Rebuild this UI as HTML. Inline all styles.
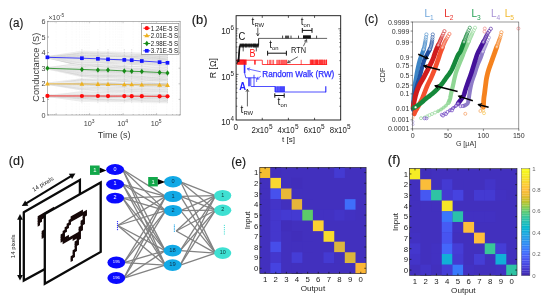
<!DOCTYPE html>
<html><head><meta charset="utf-8"><title>figure</title>
<style>
html,body{margin:0;padding:0;background:#fff;}
svg{display:block;font-family:'Liberation Sans', sans-serif;filter:blur(0.35px);}
</style></head><body>
<svg width="550" height="299" viewBox="0 0 550 299">
<rect width="550" height="299" fill="#fff"/>
<g id="pa">
<polygon points="47.4,56.1 81.9,50.82 97.9,51.26 108,51.6 124.3,52.04 131.7,52.18 141.8,52.82 159.6,53.86 167.5,54.3 167.5,72.3 159.6,71.52 141.8,70.14 131.7,69.17 124.3,68.69 108,67.91 97.9,67.23 81.9,66.45 47.4,58.5" fill="#e6e6e6" opacity="0.85"/>
<polygon points="47.4,67.1 81.9,62.45 97.9,62.9 108,62.85 124.3,63.5 131.7,63.75 141.8,63.9 159.6,64.65 167.5,65.1 167.5,82.1 159.6,81.33 141.8,80.26 131.7,79.79 124.3,79.23 108,78.26 97.9,77.99 81.9,77.22 47.4,69.5" fill="#e6e6e6" opacity="0.85"/>
<polygon points="47.4,82.6 81.9,78.35 97.9,78.43 108,78.41 124.3,78.49 131.7,78.47 141.8,78.54 159.6,78.62 167.5,78.7 167.5,92.7 159.6,92.36 141.8,92.02 131.7,91.68 124.3,91.44 108,91.1 97.9,90.86 81.9,90.52 47.4,85" fill="#e6e6e6" opacity="0.85"/>
<polygon points="47.4,94.7 81.9,91.66 97.9,91.56 108,91.57 124.3,91.47 131.7,91.48 141.8,91.39 159.6,91.39 167.5,91.3 167.5,102.8 159.6,102.68 141.8,102.46 131.7,102.33 124.3,102.11 108,101.99 97.9,101.77 81.9,101.65 47.4,97.1" fill="#e6e6e6" opacity="0.85"/>
<polyline points="47.4,56.6 81.9,56.36 97.9,55.5 108,57.05 124.3,57.17 131.7,56.67 141.8,58.48 159.6,58.49 167.5,59.97" fill="none" stroke="#cfcfcf" stroke-width="0.5" opacity="0.8"/>
<polyline points="47.4,57.4 81.9,53.7 97.9,55.41 108,56.73 124.3,56.46 131.7,56.54 141.8,55.99 159.6,58.34 167.5,57.55" fill="none" stroke="#d6d6d6" stroke-width="0.5" opacity="0.8"/>
<polyline points="47.4,58.02 81.9,51.37 97.9,51.43 108,51.68 124.3,52.54 131.7,53.87 141.8,52.96 159.6,54.93 167.5,55.47" fill="none" stroke="#f4f4f4" stroke-width="0.5" opacity="0.8"/>
<polyline points="47.4,57.72 81.9,52.79 97.9,53.35 108,53.39 124.3,53.9 131.7,54.63 141.8,54.51 159.6,56.64 167.5,55.72" fill="none" stroke="#d6d6d6" stroke-width="0.5" opacity="0.8"/>
<polyline points="47.4,57.7 81.9,62.37 97.9,63.91 108,64.43 124.3,66.02 131.7,66.11 141.8,66 159.6,69.01 167.5,67.68" fill="none" stroke="#c6c6c6" stroke-width="0.5" opacity="0.8"/>
<polyline points="47.4,56.98 81.9,54.68 97.9,53.91 108,55.57 124.3,53.91 131.7,55.22 141.8,56.44 159.6,57.57 167.5,56.89" fill="none" stroke="#f4f4f4" stroke-width="0.5" opacity="0.8"/>
<polyline points="47.4,57.46 81.9,59.91 97.9,61.48 108,62.29 124.3,61.82 131.7,62.63 141.8,62.03 159.6,64.83 167.5,65.35" fill="none" stroke="#dedede" stroke-width="0.5" opacity="0.8"/>
<polyline points="47.4,56.87 81.9,63.12 97.9,64.56 108,63.66 124.3,65.47 131.7,65.23 141.8,66.06 159.6,67.28 167.5,69.74" fill="none" stroke="#d6d6d6" stroke-width="0.5" opacity="0.8"/>
<polyline points="47.4,57.1 81.9,63.15 97.9,62.86 108,62.69 124.3,63.98 131.7,64.1 141.8,64.68 159.6,66.7 167.5,67.71" fill="none" stroke="#dedede" stroke-width="0.5" opacity="0.8"/>
<polyline points="47.4,57.02 81.9,58.28 97.9,59.03 108,57.57 124.3,58.2 131.7,58.61 141.8,59.39 159.6,61.16 167.5,61.99" fill="none" stroke="#f4f4f4" stroke-width="0.5" opacity="0.8"/>
<polyline points="47.4,56.59 81.9,55.46 97.9,56.15 108,55.87 124.3,55.92 131.7,57.89 141.8,58.83 159.6,59.23 167.5,59.95" fill="none" stroke="#c6c6c6" stroke-width="0.5" opacity="0.8"/>
<polyline points="47.4,57.86 81.9,65.44 97.9,66.05 108,65.77 124.3,66.58 131.7,66.36 141.8,68.63 159.6,68.65 167.5,69.45" fill="none" stroke="#d6d6d6" stroke-width="0.5" opacity="0.8"/>
<polyline points="47.4,56.52 81.9,57.97 97.9,57.36 108,58.96 124.3,59.48 131.7,60.75 141.8,60.73 159.6,60.61 167.5,61.53" fill="none" stroke="#c6c6c6" stroke-width="0.5" opacity="0.8"/>
<polyline points="47.4,56.8 81.9,53.03 97.9,53.52 108,53.3 124.3,55.49 131.7,55.99 141.8,55.38 159.6,56.48 167.5,55.98" fill="none" stroke="#cfcfcf" stroke-width="0.5" opacity="0.8"/>
<polyline points="47.4,57.78 81.9,62.27 97.9,63.51 108,63.71 124.3,63.69 131.7,65.9 141.8,65.41 159.6,67.53 167.5,68.79" fill="none" stroke="#ffffff" stroke-width="0.5" opacity="0.8"/>
<polyline points="47.4,57.59 81.9,54.63 97.9,56.96 108,56.6 124.3,58.06 131.7,56.95 141.8,57.36 159.6,59.24 167.5,59.67" fill="none" stroke="#dedede" stroke-width="0.5" opacity="0.8"/>
<polyline points="47.4,57.92 81.9,55.66 97.9,55.83 108,56.11 124.3,56.63 131.7,56.63 141.8,56.08 159.6,57.87 167.5,57.97" fill="none" stroke="#cfcfcf" stroke-width="0.5" opacity="0.8"/>
<polyline points="47.4,57.88 81.9,65.82 97.9,65.98 108,67.7 124.3,67.91 131.7,69.55 141.8,70.38 159.6,70.92 167.5,73.25" fill="none" stroke="#cfcfcf" stroke-width="0.5" opacity="0.8"/>
<polyline points="47.4,56.75 81.9,53.73 97.9,54.24 108,55.63 124.3,56.78 131.7,56.83 141.8,56.65 159.6,58.15 167.5,58.99" fill="none" stroke="#cfcfcf" stroke-width="0.5" opacity="0.8"/>
<polyline points="47.4,56.54 81.9,63.31 97.9,64.85 108,64.29 124.3,66.7 131.7,66.08 141.8,67.52 159.6,67.57 167.5,70.39" fill="none" stroke="#dedede" stroke-width="0.5" opacity="0.8"/>
<polyline points="47.4,57.1 81.9,58.14 97.9,58.17 108,57.3 124.3,57.77 131.7,58.09 141.8,60.67 159.6,61.6 167.5,60.58" fill="none" stroke="#ffffff" stroke-width="0.5" opacity="0.8"/>
<polyline points="47.4,57.61 81.9,65.39 97.9,66.69 108,66.42 124.3,66.97 131.7,69.79 141.8,70.05 159.6,71.18 167.5,72.99" fill="none" stroke="#c6c6c6" stroke-width="0.5" opacity="0.8"/>
<polyline points="47.4,56.69 81.9,66.74 97.9,65.54 108,66.71 124.3,68.23 131.7,69.4 141.8,69.38 159.6,71.33 167.5,72.86" fill="none" stroke="#cfcfcf" stroke-width="0.5" opacity="0.8"/>
<polyline points="47.4,57.01 81.9,64.6 97.9,65.7 108,67.17 124.3,66.8 131.7,68.49 141.8,68.49 159.6,69.96 167.5,70.74" fill="none" stroke="#cfcfcf" stroke-width="0.5" opacity="0.8"/>
<polyline points="47.4,57.85 81.9,64.41 97.9,65.59 108,64.77 124.3,65.53 131.7,67.16 141.8,66.94 159.6,68.18 167.5,70.45" fill="none" stroke="#ffffff" stroke-width="0.5" opacity="0.8"/>
<polyline points="47.4,57.87 81.9,58.49 97.9,60.22 108,60.01 124.3,60.71 131.7,62.24 141.8,62.44 159.6,63.81 167.5,64.92" fill="none" stroke="#cfcfcf" stroke-width="0.5" opacity="0.8"/>
<polyline points="47.4,68.53 81.9,69.03 97.9,69.63 108,70.16 124.3,70.37 131.7,70.95 141.8,71.11 159.6,73.11 167.5,73.11" fill="none" stroke="#f4f4f4" stroke-width="0.5" opacity="0.8"/>
<polyline points="47.4,69.09 81.9,75.03 97.9,76.41 108,76.63 124.3,77.56 131.7,77.97 141.8,79.31 159.6,79.82 167.5,80.1" fill="none" stroke="#f4f4f4" stroke-width="0.5" opacity="0.8"/>
<polyline points="47.4,69.09 81.9,72.97 97.9,75.05 108,75.15 124.3,74.84 131.7,77.15 141.8,77.78 159.6,77.02 167.5,79.51" fill="none" stroke="#c6c6c6" stroke-width="0.5" opacity="0.8"/>
<polyline points="47.4,67.63 81.9,75.61 97.9,75.32 108,76.76 124.3,78.43 131.7,77.58 141.8,78.1 159.6,79.02 167.5,79.17" fill="none" stroke="#f4f4f4" stroke-width="0.5" opacity="0.8"/>
<polyline points="47.4,68.41 81.9,62.93 97.9,62.32 108,62.99 124.3,64.3 131.7,64.24 141.8,63.27 159.6,66.19 167.5,66.12" fill="none" stroke="#cfcfcf" stroke-width="0.5" opacity="0.8"/>
<polyline points="47.4,67.84 81.9,64.95 97.9,63.65 108,64.96 124.3,65.75 131.7,66.06 141.8,65.78 159.6,67.16 167.5,66.3" fill="none" stroke="#ffffff" stroke-width="0.5" opacity="0.8"/>
<polyline points="47.4,68.44 81.9,76.17 97.9,75.5 108,75.71 124.3,78.22 131.7,78.17 141.8,77.82 159.6,80.99 167.5,81.05" fill="none" stroke="#f4f4f4" stroke-width="0.5" opacity="0.8"/>
<polyline points="47.4,69.01 81.9,62.93 97.9,65.28 108,64.23 124.3,64.6 131.7,65.34 141.8,66.38 159.6,65.53 167.5,65.63" fill="none" stroke="#ffffff" stroke-width="0.5" opacity="0.8"/>
<polyline points="47.4,69.18 81.9,73.88 97.9,72.88 108,72.89 124.3,75.59 131.7,75.37 141.8,75.53 159.6,75.75 167.5,77.03" fill="none" stroke="#dedede" stroke-width="0.5" opacity="0.8"/>
<polyline points="47.4,67.99 81.9,64.14 97.9,65.17 108,64.58 124.3,66.98 131.7,66.82 141.8,66.13 159.6,67.59 167.5,69.17" fill="none" stroke="#cfcfcf" stroke-width="0.5" opacity="0.8"/>
<polyline points="47.4,68.6 81.9,72.41 97.9,72.82 108,73.83 124.3,74.9 131.7,73.79 141.8,73.95 159.6,74.96 167.5,75.57" fill="none" stroke="#dedede" stroke-width="0.5" opacity="0.8"/>
<polyline points="47.4,67.58 81.9,74.2 97.9,74.89 108,74.75 124.3,73.69 131.7,75.66 141.8,76.68 159.6,76.61 167.5,76.42" fill="none" stroke="#dedede" stroke-width="0.5" opacity="0.8"/>
<polyline points="47.4,69.04 81.9,75.01 97.9,74.83 108,75 124.3,76.07 131.7,77.03 141.8,76.76 159.6,78.51 167.5,78.83" fill="none" stroke="#f4f4f4" stroke-width="0.5" opacity="0.8"/>
<polyline points="47.4,68.39 81.9,75.83 97.9,78.37 108,77.11 124.3,78.24 131.7,78 141.8,79.42 159.6,80.76 167.5,81.64" fill="none" stroke="#d6d6d6" stroke-width="0.5" opacity="0.8"/>
<polyline points="47.4,68.85 81.9,65.3 97.9,67.55 108,65.94 124.3,67.71 131.7,67.55 141.8,67.53 159.6,69.12 167.5,68.32" fill="none" stroke="#ffffff" stroke-width="0.5" opacity="0.8"/>
<polyline points="47.4,67.61 81.9,75.71 97.9,76.21 108,76.02 124.3,77.39 131.7,77.85 141.8,77.77 159.6,78.32 167.5,79.89" fill="none" stroke="#d6d6d6" stroke-width="0.5" opacity="0.8"/>
<polyline points="47.4,68.97 81.9,64.35 97.9,64.14 108,64.31 124.3,65.12 131.7,63.72 141.8,64.76 159.6,65.44 167.5,66.65" fill="none" stroke="#cfcfcf" stroke-width="0.5" opacity="0.8"/>
<polyline points="47.4,68.47 81.9,75.33 97.9,75.58 108,75.86 124.3,75.7 131.7,75.77 141.8,76.47 159.6,78.06 167.5,78.2" fill="none" stroke="#c6c6c6" stroke-width="0.5" opacity="0.8"/>
<polyline points="47.4,68.56 81.9,70.94 97.9,71.7 108,71.38 124.3,71.05 131.7,73.4 141.8,73.62 159.6,73.96 167.5,74.68" fill="none" stroke="#dedede" stroke-width="0.5" opacity="0.8"/>
<polyline points="47.4,68.79 81.9,70.11 97.9,71.54 108,71.75 124.3,71.11 131.7,72.79 141.8,71.85 159.6,73.78 167.5,73.95" fill="none" stroke="#c6c6c6" stroke-width="0.5" opacity="0.8"/>
<polyline points="47.4,69.12 81.9,63.37 97.9,63.22 108,64.56 124.3,64.15 131.7,65.35 141.8,64.84 159.6,66.34 167.5,66.87" fill="none" stroke="#ffffff" stroke-width="0.5" opacity="0.8"/>
<polyline points="47.4,67.32 81.9,69.71 97.9,70.85 108,71.96 124.3,72.85 131.7,73.25 141.8,72.67 159.6,74.15 167.5,74.67" fill="none" stroke="#c6c6c6" stroke-width="0.5" opacity="0.8"/>
<polyline points="47.4,69.29 81.9,73.68 97.9,73.83 108,73.52 124.3,75.37 131.7,75.46 141.8,75.37 159.6,77.43 167.5,79.33" fill="none" stroke="#f4f4f4" stroke-width="0.5" opacity="0.8"/>
<polyline points="47.4,69.13 81.9,69.26 97.9,67.77 108,67.87 124.3,70.21 131.7,69.41 141.8,69.91 159.6,71.36 167.5,71.99" fill="none" stroke="#f4f4f4" stroke-width="0.5" opacity="0.8"/>
<polyline points="47.4,68.71 81.9,74.59 97.9,76.97 108,76.26 124.3,76.13 131.7,76.65 141.8,78.3 159.6,79.28 167.5,79.7" fill="none" stroke="#d6d6d6" stroke-width="0.5" opacity="0.8"/>
<polyline points="47.4,68.05 81.9,67.73 97.9,68.81 108,68.87 124.3,69.68 131.7,70.2 141.8,71.78 159.6,70.87 167.5,71" fill="none" stroke="#dedede" stroke-width="0.5" opacity="0.8"/>
<polyline points="47.4,83.54 81.9,81.73 97.9,83.32 108,82.38 124.3,81.97 131.7,82.17 141.8,81.94 159.6,81.53 167.5,81.8" fill="none" stroke="#dedede" stroke-width="0.5" opacity="0.8"/>
<polyline points="47.4,84.67 81.9,81.33 97.9,81.51 108,82.14 124.3,81.5 131.7,81.98 141.8,83.52 159.6,83.48 167.5,83.45" fill="none" stroke="#dedede" stroke-width="0.5" opacity="0.8"/>
<polyline points="47.4,84.55 81.9,83.39 97.9,82.72 108,82.51 124.3,84.73 131.7,83.55 141.8,84.22 159.6,83.26 167.5,85.19" fill="none" stroke="#c6c6c6" stroke-width="0.5" opacity="0.8"/>
<polyline points="47.4,84.65 81.9,78.31 97.9,79.19 108,78.84 124.3,78.78 131.7,79.8 141.8,80.42 159.6,78.76 167.5,79.76" fill="none" stroke="#f4f4f4" stroke-width="0.5" opacity="0.8"/>
<polyline points="47.4,84.14 81.9,83.31 97.9,84.77 108,83.51 124.3,84.74 131.7,85.59 141.8,85.17 159.6,85.15 167.5,85.06" fill="none" stroke="#c6c6c6" stroke-width="0.5" opacity="0.8"/>
<polyline points="47.4,83.9 81.9,82.96 97.9,82.98 108,83.98 124.3,83.6 131.7,83.81 141.8,85.05 159.6,83.78 167.5,83.53" fill="none" stroke="#c6c6c6" stroke-width="0.5" opacity="0.8"/>
<polyline points="47.4,84.29 81.9,82.36 97.9,82.68 108,83.91 124.3,83.47 131.7,83.72 141.8,83.38 159.6,84.34 167.5,84.13" fill="none" stroke="#d6d6d6" stroke-width="0.5" opacity="0.8"/>
<polyline points="47.4,84.59 81.9,79.43 97.9,80.13 108,79.58 124.3,79.37 131.7,80.54 141.8,80.98 159.6,79.03 167.5,79.82" fill="none" stroke="#c6c6c6" stroke-width="0.5" opacity="0.8"/>
<polyline points="47.4,83.78 81.9,88.8 97.9,91.23 108,91.5 124.3,90.92 131.7,91.05 141.8,91.38 159.6,92.56 167.5,91.59" fill="none" stroke="#d6d6d6" stroke-width="0.5" opacity="0.8"/>
<polyline points="47.4,84.16 81.9,85.73 97.9,85.42 108,85.37 124.3,85.87 131.7,85.25 141.8,85.7 159.6,84.69 167.5,86.69" fill="none" stroke="#d6d6d6" stroke-width="0.5" opacity="0.8"/>
<polyline points="47.4,82.88 81.9,85.73 97.9,86.56 108,85.89 124.3,85.89 131.7,85.81 141.8,86.83 159.6,85.47 167.5,86.19" fill="none" stroke="#ffffff" stroke-width="0.5" opacity="0.8"/>
<polyline points="47.4,83.32 81.9,81.55 97.9,79.76 108,81.05 124.3,82.26 131.7,80.54 141.8,80.73 159.6,82.09 167.5,80.77" fill="none" stroke="#ffffff" stroke-width="0.5" opacity="0.8"/>
<polyline points="47.4,83.29 81.9,82.45 97.9,81.96 108,81.03 124.3,80.46 131.7,81.62 141.8,82.17 159.6,81.68 167.5,81.4" fill="none" stroke="#dedede" stroke-width="0.5" opacity="0.8"/>
<polyline points="47.4,83.54 81.9,83.52 97.9,84.19 108,84.33 124.3,83.67 131.7,83.83 141.8,83.08 159.6,83.96 167.5,85.47" fill="none" stroke="#cfcfcf" stroke-width="0.5" opacity="0.8"/>
<polyline points="47.4,84.74 81.9,80.56 97.9,81.89 108,80.48 124.3,80.57 131.7,81.87 141.8,80.86 159.6,82.55 167.5,81.56" fill="none" stroke="#d6d6d6" stroke-width="0.5" opacity="0.8"/>
<polyline points="47.4,83.77 81.9,89.98 97.9,88.28 108,89.82 124.3,90.96 131.7,89.13 141.8,89.4 159.6,91.13 167.5,91.05" fill="none" stroke="#dedede" stroke-width="0.5" opacity="0.8"/>
<polyline points="47.4,83.59 81.9,80.29 97.9,80.31 108,79.91 124.3,80.6 131.7,80.4 141.8,79.01 159.6,78.73 167.5,80.59" fill="none" stroke="#dedede" stroke-width="0.5" opacity="0.8"/>
<polyline points="47.4,83.42 81.9,84.58 97.9,85.05 108,85.5 124.3,84.4 131.7,83.7 141.8,83.83 159.6,84.04 167.5,85.06" fill="none" stroke="#cfcfcf" stroke-width="0.5" opacity="0.8"/>
<polyline points="47.4,84.32 81.9,84.83 97.9,86 108,85.03 124.3,86.45 131.7,84.86 141.8,86.58 159.6,85.59 167.5,86.66" fill="none" stroke="#c6c6c6" stroke-width="0.5" opacity="0.8"/>
<polyline points="47.4,83.53 81.9,81.82 97.9,79.84 108,80.76 124.3,81.83 131.7,81.73 141.8,80.09 159.6,80.18 167.5,80.35" fill="none" stroke="#cfcfcf" stroke-width="0.5" opacity="0.8"/>
<polyline points="47.4,84.29 81.9,82.56 97.9,81.35 108,81.21 124.3,82.99 131.7,82.2 141.8,81.47 159.6,82.69 167.5,81.86" fill="none" stroke="#f4f4f4" stroke-width="0.5" opacity="0.8"/>
<polyline points="47.4,84.24 81.9,82.3 97.9,82.95 108,83.33 124.3,81.35 131.7,83.22 141.8,81.64 159.6,83.24 167.5,82.78" fill="none" stroke="#c6c6c6" stroke-width="0.5" opacity="0.8"/>
<polyline points="47.4,84.63 81.9,88.52 97.9,87.19 108,88.28 124.3,87.42 131.7,89.85 141.8,88.66 159.6,89.9 167.5,88.92" fill="none" stroke="#d6d6d6" stroke-width="0.5" opacity="0.8"/>
<polyline points="47.4,83.44 81.9,82.09 97.9,83.25 108,81.62 124.3,82.05 131.7,83.44 141.8,82.38 159.6,82.09 167.5,82.17" fill="none" stroke="#ffffff" stroke-width="0.5" opacity="0.8"/>
<polyline points="47.4,83.12 81.9,84.75 97.9,84.21 108,84.26 124.3,85.81 131.7,84.94 141.8,85.68 159.6,87.27 167.5,87.46" fill="none" stroke="#d6d6d6" stroke-width="0.5" opacity="0.8"/>
<polyline points="47.4,83.63 81.9,81.63 97.9,81.88 108,82.08 124.3,82.43 131.7,82.01 141.8,80.83 159.6,82.68 167.5,81.48" fill="none" stroke="#ffffff" stroke-width="0.5" opacity="0.8"/>
<polyline points="47.4,95.41 81.9,93.84 97.9,94.22 108,93.66 124.3,93.74 131.7,93.9 141.8,95.35 159.6,93.68 167.5,93.33" fill="none" stroke="#f4f4f4" stroke-width="0.5" opacity="0.8"/>
<polyline points="47.4,95.91 81.9,100.65 97.9,102.19 108,102.08 124.3,103.05 131.7,101.18 141.8,102.23 159.6,103.32 167.5,103.53" fill="none" stroke="#f4f4f4" stroke-width="0.5" opacity="0.8"/>
<polyline points="47.4,95.49 81.9,91.34 97.9,91.4 108,93.27 124.3,92.22 131.7,93.04 141.8,91.58 159.6,92.76 167.5,91.64" fill="none" stroke="#f4f4f4" stroke-width="0.5" opacity="0.8"/>
<polyline points="47.4,96.23 81.9,98.04 97.9,99.66 108,100.03 124.3,99.26 131.7,98.71 141.8,99.53 159.6,99.02 167.5,101.41" fill="none" stroke="#cfcfcf" stroke-width="0.5" opacity="0.8"/>
<polyline points="47.4,96.2 81.9,96.85 97.9,96.44 108,97.34 124.3,98.23 131.7,97.2 141.8,97.55 159.6,97.43 167.5,98.9" fill="none" stroke="#ffffff" stroke-width="0.5" opacity="0.8"/>
<polyline points="47.4,95.72 81.9,97.17 97.9,96.87 108,95.76 124.3,96.69 131.7,97.09 141.8,96.49 159.6,96.3 167.5,98.03" fill="none" stroke="#dedede" stroke-width="0.5" opacity="0.8"/>
<polyline points="47.4,96.81 81.9,94.34 97.9,94.92 108,94.48 124.3,94.58 131.7,95.72 141.8,96 159.6,94.55 167.5,94.11" fill="none" stroke="#dedede" stroke-width="0.5" opacity="0.8"/>
<polyline points="47.4,96.78 81.9,95.56 97.9,94.88 108,94.87 124.3,94.81 131.7,96.07 141.8,95.55 159.6,96.62 167.5,95.07" fill="none" stroke="#cfcfcf" stroke-width="0.5" opacity="0.8"/>
<polyline points="47.4,96.18 81.9,98.09 97.9,96.16 108,97.57 124.3,97 131.7,97.45 141.8,96.63 159.6,97.09 167.5,97.69" fill="none" stroke="#cfcfcf" stroke-width="0.5" opacity="0.8"/>
<polyline points="47.4,95.88 81.9,93.64 97.9,93.93 108,92.09 124.3,91.83 131.7,93.8 141.8,93.78 159.6,92.6 167.5,91.48" fill="none" stroke="#dedede" stroke-width="0.5" opacity="0.8"/>
<polyline points="47.4,96.71 81.9,95.84 97.9,96.32 108,94.81 124.3,96.3 131.7,95.03 141.8,95.46 159.6,96.61 167.5,96.55" fill="none" stroke="#d6d6d6" stroke-width="0.5" opacity="0.8"/>
<polyline points="47.4,94.98 81.9,98.29 97.9,96.45 108,97.08 124.3,96.61 131.7,98.72 141.8,98.38 159.6,97.03 167.5,98.72" fill="none" stroke="#dedede" stroke-width="0.5" opacity="0.8"/>
<polyline points="47.4,96.58 81.9,91.32 97.9,92.36 108,92.23 124.3,92.3 131.7,91.52 141.8,91.67 159.6,92.05 167.5,91.56" fill="none" stroke="#dedede" stroke-width="0.5" opacity="0.8"/>
<polyline points="47.4,95.91 81.9,94.59 97.9,94.15 108,96.59 124.3,95.32 131.7,95.36 141.8,95.75 159.6,96.31 167.5,96.33" fill="none" stroke="#c6c6c6" stroke-width="0.5" opacity="0.8"/>
<polyline points="47.4,95.03 81.9,95.33 97.9,95.34 108,96.48 124.3,95.75 131.7,96.21 141.8,94.72 159.6,95.03 167.5,96.92" fill="none" stroke="#f4f4f4" stroke-width="0.5" opacity="0.8"/>
<polyline points="47.4,95.92 81.9,98.18 97.9,99.36 108,99.26 124.3,100.73 131.7,98.97 141.8,100.8 159.6,101.33 167.5,100.8" fill="none" stroke="#cfcfcf" stroke-width="0.5" opacity="0.8"/>
<polyline points="47.4,96.86 81.9,93.69 97.9,94.74 108,94.67 124.3,92.8 131.7,94.33 141.8,94.6 159.6,92.55 167.5,93.17" fill="none" stroke="#f4f4f4" stroke-width="0.5" opacity="0.8"/>
<polyline points="47.4,96.69 81.9,92.84 97.9,94.06 108,92.47 124.3,93.25 131.7,94.27 141.8,92.48 159.6,92.64 167.5,93.14" fill="none" stroke="#f4f4f4" stroke-width="0.5" opacity="0.8"/>
<polyline points="47.4,95.3 81.9,95.18 97.9,95.72 108,94.94 124.3,95.04 131.7,95.24 141.8,96.22 159.6,95.03 167.5,96.22" fill="none" stroke="#cfcfcf" stroke-width="0.5" opacity="0.8"/>
<polyline points="47.4,95.62 81.9,98.81 97.9,98.1 108,98.32 124.3,99.1 131.7,97.39 141.8,99.58 159.6,98.87 167.5,98.36" fill="none" stroke="#f4f4f4" stroke-width="0.5" opacity="0.8"/>
<polyline points="47.4,96.88 81.9,94.57 97.9,94 108,95.02 124.3,94.2 131.7,93.62 141.8,94.93 159.6,93.31 167.5,95.11" fill="none" stroke="#f4f4f4" stroke-width="0.5" opacity="0.8"/>
<polyline points="47.4,96.83 81.9,95.71 97.9,95.81 108,95.79 124.3,95.37 131.7,95.47 141.8,94.17 159.6,94.4 167.5,95.17" fill="none" stroke="#c6c6c6" stroke-width="0.5" opacity="0.8"/>
<polyline points="47.4,96.69 81.9,95.86 97.9,96.11 108,97.25 124.3,95.76 131.7,95.83 141.8,96.7 159.6,96.23 167.5,96.85" fill="none" stroke="#d6d6d6" stroke-width="0.5" opacity="0.8"/>
<polyline points="47.4,95.5 81.9,94.92 97.9,95.47 108,96.67 124.3,95.06 131.7,94.8 141.8,96.69 159.6,96.56 167.5,95.93" fill="none" stroke="#cfcfcf" stroke-width="0.5" opacity="0.8"/>
<polyline points="47.4,96.64 81.9,98.61 97.9,97.75 108,97.58 124.3,97.03 131.7,98.71 141.8,98.57 159.6,98.22 167.5,98.99" fill="none" stroke="#c6c6c6" stroke-width="0.5" opacity="0.8"/>
<polyline points="47.4,95.94 81.9,97.57 97.9,96.83 108,96.58 124.3,96.78 131.7,96.84 141.8,97.27 159.6,97.36 167.5,99.21" fill="none" stroke="#cfcfcf" stroke-width="0.5" opacity="0.8"/>
<line x1="81.9" y1="49" x2="81.9" y2="103.5" stroke="#b5b5b5" stroke-width="0.5" stroke-dasharray="0.8,0.8"/>
<line x1="97.9" y1="49" x2="97.9" y2="103.5" stroke="#b5b5b5" stroke-width="0.5" stroke-dasharray="0.8,0.8"/>
<line x1="108" y1="49" x2="108" y2="103.5" stroke="#b5b5b5" stroke-width="0.5" stroke-dasharray="0.8,0.8"/>
<line x1="124.3" y1="49" x2="124.3" y2="103.5" stroke="#b5b5b5" stroke-width="0.5" stroke-dasharray="0.8,0.8"/>
<line x1="131.7" y1="49" x2="131.7" y2="103.5" stroke="#b5b5b5" stroke-width="0.5" stroke-dasharray="0.8,0.8"/>
<line x1="141.8" y1="49" x2="141.8" y2="103.5" stroke="#b5b5b5" stroke-width="0.5" stroke-dasharray="0.8,0.8"/>
<line x1="159.6" y1="49" x2="159.6" y2="103.5" stroke="#b5b5b5" stroke-width="0.5" stroke-dasharray="0.8,0.8"/>
<line x1="167.5" y1="49" x2="167.5" y2="103.5" stroke="#b5b5b5" stroke-width="0.5" stroke-dasharray="0.8,0.8"/>
<line x1="56.1" y1="21.4" x2="56.1" y2="115" stroke="#ededed" stroke-width="0.4" stroke-dasharray="0.6,1"/>
<line x1="66.18" y1="21.4" x2="66.18" y2="115" stroke="#ededed" stroke-width="0.4" stroke-dasharray="0.6,1"/>
<line x1="72.08" y1="21.4" x2="72.08" y2="115" stroke="#ededed" stroke-width="0.4" stroke-dasharray="0.6,1"/>
<line x1="76.27" y1="21.4" x2="76.27" y2="115" stroke="#ededed" stroke-width="0.4" stroke-dasharray="0.6,1"/>
<line x1="79.52" y1="21.4" x2="79.52" y2="115" stroke="#ededed" stroke-width="0.4" stroke-dasharray="0.6,1"/>
<line x1="82.17" y1="21.4" x2="82.17" y2="115" stroke="#ededed" stroke-width="0.4" stroke-dasharray="0.6,1"/>
<line x1="84.41" y1="21.4" x2="84.41" y2="115" stroke="#ededed" stroke-width="0.4" stroke-dasharray="0.6,1"/>
<line x1="86.35" y1="21.4" x2="86.35" y2="115" stroke="#ededed" stroke-width="0.4" stroke-dasharray="0.6,1"/>
<line x1="88.07" y1="21.4" x2="88.07" y2="115" stroke="#ededed" stroke-width="0.4" stroke-dasharray="0.6,1"/>
<line x1="89.6" y1="21.4" x2="89.6" y2="115" stroke="#ededed" stroke-width="0.4" stroke-dasharray="0.6,1"/>
<line x1="99.68" y1="21.4" x2="99.68" y2="115" stroke="#ededed" stroke-width="0.4" stroke-dasharray="0.6,1"/>
<line x1="105.58" y1="21.4" x2="105.58" y2="115" stroke="#ededed" stroke-width="0.4" stroke-dasharray="0.6,1"/>
<line x1="109.77" y1="21.4" x2="109.77" y2="115" stroke="#ededed" stroke-width="0.4" stroke-dasharray="0.6,1"/>
<line x1="113.02" y1="21.4" x2="113.02" y2="115" stroke="#ededed" stroke-width="0.4" stroke-dasharray="0.6,1"/>
<line x1="115.67" y1="21.4" x2="115.67" y2="115" stroke="#ededed" stroke-width="0.4" stroke-dasharray="0.6,1"/>
<line x1="117.91" y1="21.4" x2="117.91" y2="115" stroke="#ededed" stroke-width="0.4" stroke-dasharray="0.6,1"/>
<line x1="119.85" y1="21.4" x2="119.85" y2="115" stroke="#ededed" stroke-width="0.4" stroke-dasharray="0.6,1"/>
<line x1="121.57" y1="21.4" x2="121.57" y2="115" stroke="#ededed" stroke-width="0.4" stroke-dasharray="0.6,1"/>
<line x1="123.1" y1="21.4" x2="123.1" y2="115" stroke="#ededed" stroke-width="0.4" stroke-dasharray="0.6,1"/>
<line x1="133.18" y1="21.4" x2="133.18" y2="115" stroke="#ededed" stroke-width="0.4" stroke-dasharray="0.6,1"/>
<line x1="139.08" y1="21.4" x2="139.08" y2="115" stroke="#ededed" stroke-width="0.4" stroke-dasharray="0.6,1"/>
<line x1="143.27" y1="21.4" x2="143.27" y2="115" stroke="#ededed" stroke-width="0.4" stroke-dasharray="0.6,1"/>
<line x1="146.52" y1="21.4" x2="146.52" y2="115" stroke="#ededed" stroke-width="0.4" stroke-dasharray="0.6,1"/>
<line x1="149.17" y1="21.4" x2="149.17" y2="115" stroke="#ededed" stroke-width="0.4" stroke-dasharray="0.6,1"/>
<line x1="151.41" y1="21.4" x2="151.41" y2="115" stroke="#ededed" stroke-width="0.4" stroke-dasharray="0.6,1"/>
<line x1="153.35" y1="21.4" x2="153.35" y2="115" stroke="#ededed" stroke-width="0.4" stroke-dasharray="0.6,1"/>
<line x1="155.07" y1="21.4" x2="155.07" y2="115" stroke="#ededed" stroke-width="0.4" stroke-dasharray="0.6,1"/>
<line x1="156.6" y1="21.4" x2="156.6" y2="115" stroke="#ededed" stroke-width="0.4" stroke-dasharray="0.6,1"/>
<line x1="166.68" y1="21.4" x2="166.68" y2="115" stroke="#ededed" stroke-width="0.4" stroke-dasharray="0.6,1"/>
<line x1="172.58" y1="21.4" x2="172.58" y2="115" stroke="#ededed" stroke-width="0.4" stroke-dasharray="0.6,1"/>
<line x1="176.77" y1="21.4" x2="176.77" y2="115" stroke="#ededed" stroke-width="0.4" stroke-dasharray="0.6,1"/>
<line x1="180.02" y1="21.4" x2="180.02" y2="115" stroke="#ededed" stroke-width="0.4" stroke-dasharray="0.6,1"/>
<rect x="47.4" y="21.4" width="132.8" height="93.6" fill="none" stroke="#9a9a9a" stroke-width="0.7"/>
<line x1="47.4" y1="115" x2="49" y2="115" stroke="#777" stroke-width="0.6"/>
<line x1="180.2" y1="115" x2="178.6" y2="115" stroke="#999" stroke-width="0.6"/>
<text x="45.4" y="117.6" font-size="7.2" fill="#444" text-anchor="end">0</text>
<line x1="47.4" y1="99.4" x2="49" y2="99.4" stroke="#777" stroke-width="0.6"/>
<line x1="180.2" y1="99.4" x2="178.6" y2="99.4" stroke="#999" stroke-width="0.6"/>
<text x="45.4" y="102" font-size="7.2" fill="#444" text-anchor="end">1</text>
<line x1="47.4" y1="83.8" x2="49" y2="83.8" stroke="#777" stroke-width="0.6"/>
<line x1="180.2" y1="83.8" x2="178.6" y2="83.8" stroke="#999" stroke-width="0.6"/>
<text x="45.4" y="86.4" font-size="7.2" fill="#444" text-anchor="end">2</text>
<line x1="47.4" y1="68.2" x2="49" y2="68.2" stroke="#777" stroke-width="0.6"/>
<line x1="180.2" y1="68.2" x2="178.6" y2="68.2" stroke="#999" stroke-width="0.6"/>
<text x="45.4" y="70.8" font-size="7.2" fill="#444" text-anchor="end">3</text>
<line x1="47.4" y1="52.6" x2="49" y2="52.6" stroke="#777" stroke-width="0.6"/>
<line x1="180.2" y1="52.6" x2="178.6" y2="52.6" stroke="#999" stroke-width="0.6"/>
<text x="45.4" y="55.2" font-size="7.2" fill="#444" text-anchor="end">4</text>
<line x1="47.4" y1="37" x2="49" y2="37" stroke="#777" stroke-width="0.6"/>
<line x1="180.2" y1="37" x2="178.6" y2="37" stroke="#999" stroke-width="0.6"/>
<text x="45.4" y="39.6" font-size="7.2" fill="#444" text-anchor="end">5</text>
<line x1="47.4" y1="21.4" x2="49" y2="21.4" stroke="#777" stroke-width="0.6"/>
<line x1="180.2" y1="21.4" x2="178.6" y2="21.4" stroke="#999" stroke-width="0.6"/>
<text x="45.4" y="24" font-size="7.2" fill="#444" text-anchor="end">6</text>
<line x1="48.67" y1="115" x2="48.67" y2="114.1" stroke="#888" stroke-width="0.5"/>
<line x1="48.67" y1="21.4" x2="48.67" y2="22.3" stroke="#aaa" stroke-width="0.5"/>
<line x1="50.91" y1="115" x2="50.91" y2="114.1" stroke="#888" stroke-width="0.5"/>
<line x1="50.91" y1="21.4" x2="50.91" y2="22.3" stroke="#aaa" stroke-width="0.5"/>
<line x1="52.85" y1="115" x2="52.85" y2="114.1" stroke="#888" stroke-width="0.5"/>
<line x1="52.85" y1="21.4" x2="52.85" y2="22.3" stroke="#aaa" stroke-width="0.5"/>
<line x1="54.57" y1="115" x2="54.57" y2="114.1" stroke="#888" stroke-width="0.5"/>
<line x1="54.57" y1="21.4" x2="54.57" y2="22.3" stroke="#aaa" stroke-width="0.5"/>
<line x1="56.1" y1="115" x2="56.1" y2="113.2" stroke="#888" stroke-width="0.5"/>
<line x1="56.1" y1="21.4" x2="56.1" y2="23.2" stroke="#aaa" stroke-width="0.5"/>
<line x1="66.18" y1="115" x2="66.18" y2="114.1" stroke="#888" stroke-width="0.5"/>
<line x1="66.18" y1="21.4" x2="66.18" y2="22.3" stroke="#aaa" stroke-width="0.5"/>
<line x1="72.08" y1="115" x2="72.08" y2="114.1" stroke="#888" stroke-width="0.5"/>
<line x1="72.08" y1="21.4" x2="72.08" y2="22.3" stroke="#aaa" stroke-width="0.5"/>
<line x1="76.27" y1="115" x2="76.27" y2="114.1" stroke="#888" stroke-width="0.5"/>
<line x1="76.27" y1="21.4" x2="76.27" y2="22.3" stroke="#aaa" stroke-width="0.5"/>
<line x1="79.52" y1="115" x2="79.52" y2="114.1" stroke="#888" stroke-width="0.5"/>
<line x1="79.52" y1="21.4" x2="79.52" y2="22.3" stroke="#aaa" stroke-width="0.5"/>
<line x1="82.17" y1="115" x2="82.17" y2="114.1" stroke="#888" stroke-width="0.5"/>
<line x1="82.17" y1="21.4" x2="82.17" y2="22.3" stroke="#aaa" stroke-width="0.5"/>
<line x1="84.41" y1="115" x2="84.41" y2="114.1" stroke="#888" stroke-width="0.5"/>
<line x1="84.41" y1="21.4" x2="84.41" y2="22.3" stroke="#aaa" stroke-width="0.5"/>
<line x1="86.35" y1="115" x2="86.35" y2="114.1" stroke="#888" stroke-width="0.5"/>
<line x1="86.35" y1="21.4" x2="86.35" y2="22.3" stroke="#aaa" stroke-width="0.5"/>
<line x1="88.07" y1="115" x2="88.07" y2="114.1" stroke="#888" stroke-width="0.5"/>
<line x1="88.07" y1="21.4" x2="88.07" y2="22.3" stroke="#aaa" stroke-width="0.5"/>
<line x1="89.6" y1="115" x2="89.6" y2="113.2" stroke="#888" stroke-width="0.5"/>
<line x1="89.6" y1="21.4" x2="89.6" y2="23.2" stroke="#aaa" stroke-width="0.5"/>
<line x1="99.68" y1="115" x2="99.68" y2="114.1" stroke="#888" stroke-width="0.5"/>
<line x1="99.68" y1="21.4" x2="99.68" y2="22.3" stroke="#aaa" stroke-width="0.5"/>
<line x1="105.58" y1="115" x2="105.58" y2="114.1" stroke="#888" stroke-width="0.5"/>
<line x1="105.58" y1="21.4" x2="105.58" y2="22.3" stroke="#aaa" stroke-width="0.5"/>
<line x1="109.77" y1="115" x2="109.77" y2="114.1" stroke="#888" stroke-width="0.5"/>
<line x1="109.77" y1="21.4" x2="109.77" y2="22.3" stroke="#aaa" stroke-width="0.5"/>
<line x1="113.02" y1="115" x2="113.02" y2="114.1" stroke="#888" stroke-width="0.5"/>
<line x1="113.02" y1="21.4" x2="113.02" y2="22.3" stroke="#aaa" stroke-width="0.5"/>
<line x1="115.67" y1="115" x2="115.67" y2="114.1" stroke="#888" stroke-width="0.5"/>
<line x1="115.67" y1="21.4" x2="115.67" y2="22.3" stroke="#aaa" stroke-width="0.5"/>
<line x1="117.91" y1="115" x2="117.91" y2="114.1" stroke="#888" stroke-width="0.5"/>
<line x1="117.91" y1="21.4" x2="117.91" y2="22.3" stroke="#aaa" stroke-width="0.5"/>
<line x1="119.85" y1="115" x2="119.85" y2="114.1" stroke="#888" stroke-width="0.5"/>
<line x1="119.85" y1="21.4" x2="119.85" y2="22.3" stroke="#aaa" stroke-width="0.5"/>
<line x1="121.57" y1="115" x2="121.57" y2="114.1" stroke="#888" stroke-width="0.5"/>
<line x1="121.57" y1="21.4" x2="121.57" y2="22.3" stroke="#aaa" stroke-width="0.5"/>
<line x1="123.1" y1="115" x2="123.1" y2="113.2" stroke="#888" stroke-width="0.5"/>
<line x1="123.1" y1="21.4" x2="123.1" y2="23.2" stroke="#aaa" stroke-width="0.5"/>
<line x1="133.18" y1="115" x2="133.18" y2="114.1" stroke="#888" stroke-width="0.5"/>
<line x1="133.18" y1="21.4" x2="133.18" y2="22.3" stroke="#aaa" stroke-width="0.5"/>
<line x1="139.08" y1="115" x2="139.08" y2="114.1" stroke="#888" stroke-width="0.5"/>
<line x1="139.08" y1="21.4" x2="139.08" y2="22.3" stroke="#aaa" stroke-width="0.5"/>
<line x1="143.27" y1="115" x2="143.27" y2="114.1" stroke="#888" stroke-width="0.5"/>
<line x1="143.27" y1="21.4" x2="143.27" y2="22.3" stroke="#aaa" stroke-width="0.5"/>
<line x1="146.52" y1="115" x2="146.52" y2="114.1" stroke="#888" stroke-width="0.5"/>
<line x1="146.52" y1="21.4" x2="146.52" y2="22.3" stroke="#aaa" stroke-width="0.5"/>
<line x1="149.17" y1="115" x2="149.17" y2="114.1" stroke="#888" stroke-width="0.5"/>
<line x1="149.17" y1="21.4" x2="149.17" y2="22.3" stroke="#aaa" stroke-width="0.5"/>
<line x1="151.41" y1="115" x2="151.41" y2="114.1" stroke="#888" stroke-width="0.5"/>
<line x1="151.41" y1="21.4" x2="151.41" y2="22.3" stroke="#aaa" stroke-width="0.5"/>
<line x1="153.35" y1="115" x2="153.35" y2="114.1" stroke="#888" stroke-width="0.5"/>
<line x1="153.35" y1="21.4" x2="153.35" y2="22.3" stroke="#aaa" stroke-width="0.5"/>
<line x1="155.07" y1="115" x2="155.07" y2="114.1" stroke="#888" stroke-width="0.5"/>
<line x1="155.07" y1="21.4" x2="155.07" y2="22.3" stroke="#aaa" stroke-width="0.5"/>
<line x1="156.6" y1="115" x2="156.6" y2="113.2" stroke="#888" stroke-width="0.5"/>
<line x1="156.6" y1="21.4" x2="156.6" y2="23.2" stroke="#aaa" stroke-width="0.5"/>
<line x1="166.68" y1="115" x2="166.68" y2="114.1" stroke="#888" stroke-width="0.5"/>
<line x1="166.68" y1="21.4" x2="166.68" y2="22.3" stroke="#aaa" stroke-width="0.5"/>
<line x1="172.58" y1="115" x2="172.58" y2="114.1" stroke="#888" stroke-width="0.5"/>
<line x1="172.58" y1="21.4" x2="172.58" y2="22.3" stroke="#aaa" stroke-width="0.5"/>
<line x1="176.77" y1="115" x2="176.77" y2="114.1" stroke="#888" stroke-width="0.5"/>
<line x1="176.77" y1="21.4" x2="176.77" y2="22.3" stroke="#aaa" stroke-width="0.5"/>
<line x1="180.02" y1="115" x2="180.02" y2="114.1" stroke="#888" stroke-width="0.5"/>
<line x1="180.02" y1="21.4" x2="180.02" y2="22.3" stroke="#aaa" stroke-width="0.5"/>
<text x="89.2" y="126.3" font-size="7.3" fill="#444" text-anchor="middle">10<tspan dy="-3.2" font-size="5">3</tspan></text>
<text x="122.7" y="126.3" font-size="7.3" fill="#444" text-anchor="middle">10<tspan dy="-3.2" font-size="5">4</tspan></text>
<text x="156.2" y="126.3" font-size="7.3" fill="#444" text-anchor="middle">10<tspan dy="-3.2" font-size="5">5</tspan></text>
<text x="48.4" y="19.8" font-size="6.8" fill="#444">×10<tspan dy="-2.8" font-size="4.8">-5</tspan></text>
<polyline points="47.4,57.3 81.9,58.2 97.9,58.8 108,59.3 124.3,59.9 131.7,60.2 141.8,61 159.6,62.2 167.5,62.8" fill="none" stroke="#1414ff" stroke-width="0.8"/>
<rect x="45.55" y="55.45" width="3.7" height="3.7" fill="#1414ff"/>
<rect x="80.05" y="56.35" width="3.7" height="3.7" fill="#1414ff"/>
<rect x="96.05" y="56.95" width="3.7" height="3.7" fill="#1414ff"/>
<rect x="106.15" y="57.45" width="3.7" height="3.7" fill="#1414ff"/>
<rect x="122.45" y="58.05" width="3.7" height="3.7" fill="#1414ff"/>
<rect x="129.85" y="58.35" width="3.7" height="3.7" fill="#1414ff"/>
<rect x="139.95" y="59.15" width="3.7" height="3.7" fill="#1414ff"/>
<rect x="157.75" y="60.35" width="3.7" height="3.7" fill="#1414ff"/>
<rect x="165.65" y="60.95" width="3.7" height="3.7" fill="#1414ff"/>
<polyline points="47.4,68.3 81.9,69.4 97.9,70 108,70.1 124.3,70.9 131.7,71.3 141.8,71.6 159.6,72.5 167.5,73.1" fill="none" stroke="#168a16" stroke-width="0.8"/>
<polygon points="47.4,65.55 49.4,68.3 47.4,71.05 45.4,68.3" fill="#168a16"/>
<polygon points="81.9,66.65 83.9,69.4 81.9,72.15 79.9,69.4" fill="#168a16"/>
<polygon points="97.9,67.25 99.9,70 97.9,72.75 95.9,70" fill="#168a16"/>
<polygon points="108,67.35 110,70.1 108,72.85 106,70.1" fill="#168a16"/>
<polygon points="124.3,68.15 126.3,70.9 124.3,73.65 122.3,70.9" fill="#168a16"/>
<polygon points="131.7,68.55 133.7,71.3 131.7,74.05 129.7,71.3" fill="#168a16"/>
<polygon points="141.8,68.85 143.8,71.6 141.8,74.35 139.8,71.6" fill="#168a16"/>
<polygon points="159.6,69.75 161.6,72.5 159.6,75.25 157.6,72.5" fill="#168a16"/>
<polygon points="167.5,70.35 169.5,73.1 167.5,75.85 165.5,73.1" fill="#168a16"/>
<polyline points="47.4,83.8 81.9,84 97.9,84.2 108,84.3 124.3,84.5 131.7,84.6 141.8,84.8 159.6,85 167.5,85.2" fill="none" stroke="#edb120" stroke-width="0.8"/>
<polygon points="47.4,81.2 49.8,85.5 45,85.5" fill="#edb120"/>
<polygon points="81.9,81.4 84.3,85.7 79.5,85.7" fill="#edb120"/>
<polygon points="97.9,81.6 100.3,85.9 95.5,85.9" fill="#edb120"/>
<polygon points="108,81.7 110.4,86 105.6,86" fill="#edb120"/>
<polygon points="124.3,81.9 126.7,86.2 121.9,86.2" fill="#edb120"/>
<polygon points="131.7,82 134.1,86.3 129.3,86.3" fill="#edb120"/>
<polygon points="141.8,82.2 144.2,86.5 139.4,86.5" fill="#edb120"/>
<polygon points="159.6,82.4 162,86.7 157.2,86.7" fill="#edb120"/>
<polygon points="167.5,82.6 169.9,86.9 165.1,86.9" fill="#edb120"/>
<polyline points="47.4,95.9 81.9,96 97.9,96 108,96.1 124.3,96.1 131.7,96.2 141.8,96.2 159.6,96.3 167.5,96.3" fill="none" stroke="#ff0a0a" stroke-width="0.8"/>
<circle cx="47.4" cy="95.9" r="2.1" fill="#ff0a0a"/>
<circle cx="81.9" cy="96" r="2.1" fill="#ff0a0a"/>
<circle cx="97.9" cy="96" r="2.1" fill="#ff0a0a"/>
<circle cx="108" cy="96.1" r="2.1" fill="#ff0a0a"/>
<circle cx="124.3" cy="96.1" r="2.1" fill="#ff0a0a"/>
<circle cx="131.7" cy="96.2" r="2.1" fill="#ff0a0a"/>
<circle cx="141.8" cy="96.2" r="2.1" fill="#ff0a0a"/>
<circle cx="159.6" cy="96.3" r="2.1" fill="#ff0a0a"/>
<circle cx="167.5" cy="96.3" r="2.1" fill="#ff0a0a"/>
<rect x="141.3" y="23.3" width="37.6" height="31.2" fill="#fff" stroke="#777" stroke-width="0.6"/>
<line x1="143.4" y1="28.2" x2="150.2" y2="28.2" stroke="#ff0a0a" stroke-width="0.9"/>
<circle cx="146.8" cy="28.2" r="2.1" fill="#ff0a0a"/>
<text x="150.8" y="30.5" font-size="6.4" fill="#111" text-anchor="start" textLength="27.4" lengthAdjust="spacingAndGlyphs">1.24E-5 S</text>
<line x1="143.4" y1="35.6" x2="150.2" y2="35.6" stroke="#edb120" stroke-width="0.9"/>
<polygon points="146.8,33 149.2,37.3 144.4,37.3" fill="#edb120"/>
<text x="150.8" y="37.9" font-size="6.4" fill="#111" text-anchor="start" textLength="27.4" lengthAdjust="spacingAndGlyphs">2.01E-5 S</text>
<line x1="143.4" y1="43.5" x2="150.2" y2="43.5" stroke="#168a16" stroke-width="0.9"/>
<polygon points="146.8,40.75 148.8,43.5 146.8,46.25 144.8,43.5" fill="#168a16"/>
<text x="150.8" y="45.8" font-size="6.4" fill="#111" text-anchor="start" textLength="27.4" lengthAdjust="spacingAndGlyphs">2.98E-5 S</text>
<line x1="143.4" y1="50.8" x2="150.2" y2="50.8" stroke="#1414ff" stroke-width="0.9"/>
<rect x="144.95" y="48.95" width="3.7" height="3.7" fill="#1414ff"/>
<text x="150.8" y="53.1" font-size="6.4" fill="#111" text-anchor="start" textLength="27.4" lengthAdjust="spacingAndGlyphs">3.71E-5 S</text>
<text x="114.1" y="137.7" font-size="9" fill="#3a3a3a" text-anchor="middle" textLength="32.6" lengthAdjust="spacingAndGlyphs">Time (s)</text>
<text transform="translate(39,67.2) rotate(-90)" font-size="9.2" fill="#3a3a3a" text-anchor="middle" textLength="69" lengthAdjust="spacingAndGlyphs">Conductance (S)</text>
<text x="9.1" y="27.3" font-size="12" fill="#1a1a1a" text-anchor="start" textLength="14.2" lengthAdjust="spacingAndGlyphs" stroke="#1a1a1a" stroke-width="0.15">(a)</text>
</g>
<g id="pb">
<line x1="244.6" y1="60.5" x2="244.6" y2="73" stroke="#5a5aff" stroke-width="1.8"/>
<polyline points="236.5,60.3 244.3,60.3 244.6,73 245.8,77.8 256.3,77.8" fill="none" stroke="#2222ff" stroke-width="0.8"/>
<line x1="248.6" y1="77.8" x2="248.6" y2="86.3" stroke="#2222ff" stroke-width="0.8"/>
<line x1="249.6" y1="77.8" x2="249.6" y2="86.3" stroke="#2222ff" stroke-width="0.8"/>
<line x1="250.8" y1="77.8" x2="250.8" y2="86.3" stroke="#2222ff" stroke-width="0.8"/>
<line x1="254" y1="74.8" x2="254" y2="86.5" stroke="#2222ff" stroke-width="0.8"/>
<line x1="256.6" y1="77.8" x2="256.6" y2="82" stroke="#2222ff" stroke-width="0.6"/>
<polyline points="251,86.5 275.1,86.5 275.1,92 326,92" fill="none" stroke="#2222ff" stroke-width="0.8"/>
<rect x="275.1" y="86.3" width="9.4" height="5.7" fill="#2222ff" opacity="0.55"/>
<line x1="275.3" y1="86.3" x2="275.3" y2="92" stroke="#2222ff" stroke-width="0.7"/>
<line x1="277" y1="86.3" x2="277" y2="92" stroke="#2222ff" stroke-width="0.7"/>
<line x1="278" y1="86.3" x2="278" y2="92" stroke="#2222ff" stroke-width="0.7"/>
<line x1="279.2" y1="86.3" x2="279.2" y2="92" stroke="#2222ff" stroke-width="0.7"/>
<line x1="280.6" y1="86.3" x2="280.6" y2="92" stroke="#2222ff" stroke-width="0.7"/>
<line x1="281.4" y1="86.3" x2="281.4" y2="92" stroke="#2222ff" stroke-width="0.7"/>
<line x1="282.6" y1="86.3" x2="282.6" y2="92" stroke="#2222ff" stroke-width="0.7"/>
<line x1="283.6" y1="86.3" x2="283.6" y2="92" stroke="#2222ff" stroke-width="0.7"/>
<line x1="284.5" y1="86.3" x2="284.5" y2="92" stroke="#2222ff" stroke-width="0.7"/>
<line x1="325.8" y1="86.3" x2="325.8" y2="92.3" stroke="#2222ff" stroke-width="1.1"/>
<rect x="236.8" y="59.6" width="9.8" height="5.2" fill="#ff1010" opacity="0.9"/>
<polyline points="236.5,60.2 262.3,60.2 262.3,64.5 327.1,64.5" fill="none" stroke="#ff1010" stroke-width="0.8"/>
<line x1="254.6" y1="60" x2="254.6" y2="64.6" stroke="#ff1010" stroke-width="0.8"/>
<line x1="255.3" y1="60" x2="255.3" y2="64.6" stroke="#ff1010" stroke-width="0.8"/>
<line x1="267.6" y1="59.8" x2="267.6" y2="64.6" stroke="#ff1010" stroke-width="0.7"/>
<line x1="269.3" y1="59.8" x2="269.3" y2="64.6" stroke="#ff1010" stroke-width="0.7"/>
<line x1="270.6" y1="59.8" x2="270.6" y2="64.6" stroke="#ff1010" stroke-width="0.7"/>
<line x1="272.1" y1="59.8" x2="272.1" y2="64.6" stroke="#ff1010" stroke-width="0.7"/>
<line x1="273.6" y1="59.8" x2="273.6" y2="64.6" stroke="#ff1010" stroke-width="0.7"/>
<line x1="276.8" y1="59.8" x2="276.8" y2="64.6" stroke="#ff1010" stroke-width="0.7"/>
<line x1="277.8" y1="59.8" x2="277.8" y2="64.6" stroke="#ff1010" stroke-width="0.7"/>
<line x1="278.8" y1="59.8" x2="278.8" y2="64.6" stroke="#ff1010" stroke-width="0.7"/>
<line x1="279.6" y1="59.8" x2="279.6" y2="64.6" stroke="#ff1010" stroke-width="0.7"/>
<line x1="280.8" y1="59.8" x2="280.8" y2="64.6" stroke="#ff1010" stroke-width="0.7"/>
<line x1="281.6" y1="59.8" x2="281.6" y2="64.6" stroke="#ff1010" stroke-width="0.7"/>
<line x1="282.6" y1="59.8" x2="282.6" y2="64.6" stroke="#ff1010" stroke-width="0.7"/>
<line x1="283.4" y1="59.8" x2="283.4" y2="64.6" stroke="#ff1010" stroke-width="0.7"/>
<line x1="284.4" y1="59.8" x2="284.4" y2="64.6" stroke="#ff1010" stroke-width="0.7"/>
<line x1="285.3" y1="59.8" x2="285.3" y2="64.6" stroke="#ff1010" stroke-width="0.7"/>
<line x1="286.2" y1="59.8" x2="286.2" y2="64.6" stroke="#ff1010" stroke-width="0.7"/>
<line x1="286.8" y1="59.8" x2="286.8" y2="64.6" stroke="#ff1010" stroke-width="0.7"/>
<line x1="301.2" y1="59.8" x2="301.2" y2="64.6" stroke="#ff1010" stroke-width="0.7"/>
<rect x="310.3" y="59.8" width="16.8" height="4.8" fill="#ff1010" opacity="0.55"/>
<line x1="310.3" y1="59.6" x2="310.3" y2="64.6" stroke="#ff1010" stroke-width="0.8"/>
<line x1="311.4" y1="59.6" x2="311.4" y2="64.6" stroke="#ff1010" stroke-width="0.8"/>
<line x1="312.5" y1="59.6" x2="312.5" y2="64.6" stroke="#ff1010" stroke-width="0.8"/>
<line x1="313.9" y1="59.6" x2="313.9" y2="64.6" stroke="#ff1010" stroke-width="0.8"/>
<line x1="315.7" y1="59.6" x2="315.7" y2="64.6" stroke="#ff1010" stroke-width="0.8"/>
<line x1="316.6" y1="59.6" x2="316.6" y2="64.6" stroke="#ff1010" stroke-width="0.8"/>
<line x1="317.5" y1="59.6" x2="317.5" y2="64.6" stroke="#ff1010" stroke-width="0.8"/>
<line x1="319.3" y1="59.6" x2="319.3" y2="64.6" stroke="#ff1010" stroke-width="0.8"/>
<line x1="320.7" y1="59.6" x2="320.7" y2="64.6" stroke="#ff1010" stroke-width="0.8"/>
<line x1="321.8" y1="59.6" x2="321.8" y2="64.6" stroke="#ff1010" stroke-width="0.8"/>
<line x1="322.9" y1="59.6" x2="322.9" y2="64.6" stroke="#ff1010" stroke-width="0.8"/>
<line x1="324.7" y1="59.6" x2="324.7" y2="64.6" stroke="#ff1010" stroke-width="0.8"/>
<line x1="326.5" y1="59.6" x2="326.5" y2="64.6" stroke="#ff1010" stroke-width="0.8"/>
<polyline points="236.8,64 238,60 239.2,52 239.8,45.3 258.6,45.3 258.6,38.4" fill="none" stroke="#111" stroke-width="0.9"/>
<line x1="258.6" y1="38.4" x2="327.1" y2="38.4" stroke="#111" stroke-width="0.65"/>
<line x1="238.6" y1="62" x2="239.6" y2="46" stroke="#111" stroke-width="1.6"/>
<rect x="239.8" y="43.8" width="18.8" height="3" fill="#111" opacity="0.8"/>
<line x1="240.2" y1="43.6" x2="240.2" y2="47.6" stroke="#111" stroke-width="0.8"/>
<line x1="241.8" y1="43.6" x2="241.8" y2="47.6" stroke="#111" stroke-width="0.8"/>
<line x1="242.8" y1="43.6" x2="242.8" y2="47.6" stroke="#111" stroke-width="0.8"/>
<line x1="243.8" y1="43.6" x2="243.8" y2="47.6" stroke="#111" stroke-width="0.8"/>
<line x1="245.4" y1="43.6" x2="245.4" y2="47.6" stroke="#111" stroke-width="0.8"/>
<line x1="246.4" y1="43.6" x2="246.4" y2="47.6" stroke="#111" stroke-width="0.8"/>
<line x1="248" y1="43.6" x2="248" y2="47.6" stroke="#111" stroke-width="0.8"/>
<line x1="249.3" y1="43.6" x2="249.3" y2="47.6" stroke="#111" stroke-width="0.8"/>
<line x1="250.9" y1="43.6" x2="250.9" y2="47.6" stroke="#111" stroke-width="0.8"/>
<line x1="251.9" y1="43.6" x2="251.9" y2="47.6" stroke="#111" stroke-width="0.8"/>
<line x1="253.5" y1="43.6" x2="253.5" y2="47.6" stroke="#111" stroke-width="0.8"/>
<line x1="254.5" y1="43.6" x2="254.5" y2="47.6" stroke="#111" stroke-width="0.8"/>
<line x1="255.5" y1="43.6" x2="255.5" y2="47.6" stroke="#111" stroke-width="0.8"/>
<line x1="257.1" y1="43.6" x2="257.1" y2="47.6" stroke="#111" stroke-width="0.8"/>
<line x1="258.1" y1="43.6" x2="258.1" y2="47.6" stroke="#111" stroke-width="0.8"/>
<line x1="243.2" y1="45" x2="243.2" y2="51.4" stroke="#111" stroke-width="0.7"/>
<line x1="256.3" y1="45" x2="256.3" y2="51.4" stroke="#111" stroke-width="0.7"/>
<line x1="282.6" y1="35.6" x2="282.6" y2="38.4" stroke="#111" stroke-width="0.8"/>
<line x1="285.6" y1="35.6" x2="285.6" y2="38.4" stroke="#111" stroke-width="0.8"/>
<line x1="286.6" y1="35.6" x2="286.6" y2="38.4" stroke="#111" stroke-width="0.8"/>
<line x1="287.6" y1="35.6" x2="287.6" y2="38.4" stroke="#111" stroke-width="0.8"/>
<line x1="288.6" y1="35.6" x2="288.6" y2="38.4" stroke="#111" stroke-width="0.8"/>
<line x1="291" y1="35.6" x2="291" y2="38.4" stroke="#111" stroke-width="0.8"/>
<line x1="298.5" y1="35.6" x2="298.5" y2="38.4" stroke="#111" stroke-width="0.8"/>
<line x1="316.6" y1="35.6" x2="316.6" y2="38.4" stroke="#111" stroke-width="0.8"/>
<rect x="303" y="35.3" width="7.9" height="3.3" fill="#111"/>
<rect x="236.1" y="15.7" width="104.6" height="104.3" fill="none" stroke="#111" stroke-width="0.9"/>
<line x1="262.25" y1="120" x2="262.25" y2="117.8" stroke="#111" stroke-width="0.7"/>
<line x1="262.25" y1="15.7" x2="262.25" y2="17.9" stroke="#111" stroke-width="0.7"/>
<line x1="288.4" y1="120" x2="288.4" y2="117.8" stroke="#111" stroke-width="0.7"/>
<line x1="288.4" y1="15.7" x2="288.4" y2="17.9" stroke="#111" stroke-width="0.7"/>
<line x1="314.55" y1="120" x2="314.55" y2="117.8" stroke="#111" stroke-width="0.7"/>
<line x1="314.55" y1="15.7" x2="314.55" y2="17.9" stroke="#111" stroke-width="0.7"/>
<line x1="236.1" y1="106.27" x2="237.4" y2="106.27" stroke="#111" stroke-width="0.6"/>
<line x1="340.7" y1="106.27" x2="339.4" y2="106.27" stroke="#111" stroke-width="0.6"/>
<line x1="236.1" y1="98.24" x2="237.4" y2="98.24" stroke="#111" stroke-width="0.6"/>
<line x1="340.7" y1="98.24" x2="339.4" y2="98.24" stroke="#111" stroke-width="0.6"/>
<line x1="236.1" y1="92.55" x2="237.4" y2="92.55" stroke="#111" stroke-width="0.6"/>
<line x1="340.7" y1="92.55" x2="339.4" y2="92.55" stroke="#111" stroke-width="0.6"/>
<line x1="236.1" y1="88.13" x2="237.4" y2="88.13" stroke="#111" stroke-width="0.6"/>
<line x1="340.7" y1="88.13" x2="339.4" y2="88.13" stroke="#111" stroke-width="0.6"/>
<line x1="236.1" y1="84.52" x2="237.4" y2="84.52" stroke="#111" stroke-width="0.6"/>
<line x1="340.7" y1="84.52" x2="339.4" y2="84.52" stroke="#111" stroke-width="0.6"/>
<line x1="236.1" y1="81.46" x2="237.4" y2="81.46" stroke="#111" stroke-width="0.6"/>
<line x1="340.7" y1="81.46" x2="339.4" y2="81.46" stroke="#111" stroke-width="0.6"/>
<line x1="236.1" y1="78.82" x2="237.4" y2="78.82" stroke="#111" stroke-width="0.6"/>
<line x1="340.7" y1="78.82" x2="339.4" y2="78.82" stroke="#111" stroke-width="0.6"/>
<line x1="236.1" y1="76.49" x2="237.4" y2="76.49" stroke="#111" stroke-width="0.6"/>
<line x1="340.7" y1="76.49" x2="339.4" y2="76.49" stroke="#111" stroke-width="0.6"/>
<line x1="236.1" y1="74.4" x2="238.5" y2="74.4" stroke="#111" stroke-width="0.6"/>
<line x1="340.7" y1="74.4" x2="338.3" y2="74.4" stroke="#111" stroke-width="0.6"/>
<line x1="236.1" y1="60.67" x2="237.4" y2="60.67" stroke="#111" stroke-width="0.6"/>
<line x1="340.7" y1="60.67" x2="339.4" y2="60.67" stroke="#111" stroke-width="0.6"/>
<line x1="236.1" y1="52.64" x2="237.4" y2="52.64" stroke="#111" stroke-width="0.6"/>
<line x1="340.7" y1="52.64" x2="339.4" y2="52.64" stroke="#111" stroke-width="0.6"/>
<line x1="236.1" y1="46.95" x2="237.4" y2="46.95" stroke="#111" stroke-width="0.6"/>
<line x1="340.7" y1="46.95" x2="339.4" y2="46.95" stroke="#111" stroke-width="0.6"/>
<line x1="236.1" y1="42.53" x2="237.4" y2="42.53" stroke="#111" stroke-width="0.6"/>
<line x1="340.7" y1="42.53" x2="339.4" y2="42.53" stroke="#111" stroke-width="0.6"/>
<line x1="236.1" y1="38.92" x2="237.4" y2="38.92" stroke="#111" stroke-width="0.6"/>
<line x1="340.7" y1="38.92" x2="339.4" y2="38.92" stroke="#111" stroke-width="0.6"/>
<line x1="236.1" y1="35.86" x2="237.4" y2="35.86" stroke="#111" stroke-width="0.6"/>
<line x1="340.7" y1="35.86" x2="339.4" y2="35.86" stroke="#111" stroke-width="0.6"/>
<line x1="236.1" y1="33.22" x2="237.4" y2="33.22" stroke="#111" stroke-width="0.6"/>
<line x1="340.7" y1="33.22" x2="339.4" y2="33.22" stroke="#111" stroke-width="0.6"/>
<line x1="236.1" y1="30.89" x2="237.4" y2="30.89" stroke="#111" stroke-width="0.6"/>
<line x1="340.7" y1="30.89" x2="339.4" y2="30.89" stroke="#111" stroke-width="0.6"/>
<line x1="236.1" y1="28.8" x2="238.5" y2="28.8" stroke="#111" stroke-width="0.6"/>
<line x1="340.7" y1="28.8" x2="338.3" y2="28.8" stroke="#111" stroke-width="0.6"/>
<text x="221.2" y="34.2" font-size="8.7" fill="#1a1a1a" textLength="9.2" lengthAdjust="spacingAndGlyphs">10</text><text x="230.4" y="29.9" font-size="6.3" fill="#1a1a1a">6</text>
<text x="221.2" y="79.8" font-size="8.7" fill="#1a1a1a" textLength="9.2" lengthAdjust="spacingAndGlyphs">10</text><text x="230.4" y="75.5" font-size="6.3" fill="#1a1a1a">5</text>
<text x="221.2" y="125.4" font-size="8.7" fill="#1a1a1a" textLength="9.2" lengthAdjust="spacingAndGlyphs">10</text><text x="230.4" y="121.1" font-size="6.3" fill="#1a1a1a">4</text>
<text x="235.8" y="129.9" font-size="8.7" fill="#1a1a1a" text-anchor="middle" textLength="4.5" lengthAdjust="spacingAndGlyphs">0</text>
<text x="251.6" y="133" font-size="9" fill="#1a1a1a" textLength="17" lengthAdjust="spacingAndGlyphs">2x10</text>
<text x="268.9" y="128.8" font-size="6.5" fill="#1a1a1a">5</text>
<text x="277.6" y="133" font-size="9" fill="#1a1a1a" textLength="17" lengthAdjust="spacingAndGlyphs">4x10</text>
<text x="294.9" y="128.8" font-size="6.5" fill="#1a1a1a">5</text>
<text x="303.8" y="133" font-size="9" fill="#1a1a1a" textLength="17" lengthAdjust="spacingAndGlyphs">6x10</text>
<text x="321.1" y="128.8" font-size="6.5" fill="#1a1a1a">5</text>
<text x="329.8" y="133" font-size="9" fill="#1a1a1a" textLength="17" lengthAdjust="spacingAndGlyphs">8x10</text>
<text x="347.1" y="128.8" font-size="6.5" fill="#1a1a1a">5</text>
<text x="288.5" y="142.2" font-size="8" fill="#222" text-anchor="middle">t [s]</text>
<text transform="translate(215.7,68.1) rotate(-90)" font-size="8.4" fill="#222" text-anchor="middle" textLength="20.2" lengthAdjust="spacingAndGlyphs">R [Ω]</text>
<text x="191.8" y="23.5" font-size="12" fill="#1a1a1a" text-anchor="start" textLength="15.8" lengthAdjust="spacingAndGlyphs" stroke="#1a1a1a" stroke-width="0.15">(b)</text>
<text x="238.6" y="39.6" font-size="10.6" fill="#111" text-anchor="start" textLength="6.8" lengthAdjust="spacingAndGlyphs">C</text>
<text x="251.6" y="25" font-size="10" fill="#1a1a1a">t<tspan dy="1.6" font-size="5.9">RW</tspan></text>
<line x1="257.8" y1="27.6" x2="257.8" y2="35.9" stroke="#222" stroke-width="0.7"/>
<polyline points="259.3,33.3 257.8,35.9 256.3,33.3" fill="none" stroke="#222" stroke-width="0.7"/>
<text x="269.2" y="48" font-size="10" fill="#1a1a1a">t<tspan dy="1.6" font-size="5.9">on</tspan></text>
<path d="M267.6 53.2 H286.4 M267.6 50.8 V55.6 M286.4 50.8 V55.6" stroke="#111" stroke-width="1" fill="none"/>
<text x="249.4" y="57.4" font-size="10.6" fill="#ff1010" text-anchor="start" textLength="6" lengthAdjust="spacingAndGlyphs">B</text>
<text x="300.8" y="25" font-size="10" fill="#1a1a1a">t<tspan dy="1.6" font-size="5.9">on</tspan></text>
<path d="M302.3 30.4 H312 M302.3 28 V32.8 M312 28 V32.8" stroke="#111" stroke-width="1" fill="none"/>
<text x="291" y="53.2" font-size="8.8" fill="#1a1a1a" text-anchor="start" textLength="15" lengthAdjust="spacingAndGlyphs">RTN</text>
<line x1="303.4" y1="46.2" x2="306.6" y2="39.6" stroke="#222" stroke-width="0.7"/>
<polyline points="304.12,41.29 306.6,39.6 306.82,42.59" fill="none" stroke="#222" stroke-width="0.7"/>
<line x1="297.8" y1="56.8" x2="287.6" y2="62.6" stroke="#222" stroke-width="0.7"/>
<polyline points="290.6,62.62 287.6,62.6 289.12,60.01" fill="none" stroke="#222" stroke-width="0.7"/>
<text x="262.3" y="77" font-size="8.4" fill="#2a2aff" stroke="#2a2aff" stroke-width="0.25" textLength="72" lengthAdjust="spacingAndGlyphs">Random Walk (RW)</text>
<line x1="260.8" y1="71.8" x2="247.3" y2="68.8" stroke="#2a2aff" stroke-width="0.7"/>
<polyline points="249.51,70.83 247.3,68.8 250.16,67.9" fill="none" stroke="#2a2aff" stroke-width="0.7"/>
<line x1="260.8" y1="76.3" x2="256.9" y2="79.2" stroke="#2a2aff" stroke-width="0.7"/>
<polyline points="259.44,78.93 256.9,79.2 257.89,76.84" fill="none" stroke="#2a2aff" stroke-width="0.7"/>
<text x="239.2" y="89.9" font-size="10.4" fill="#2222ff" font-weight="bold" textLength="6.8" lengthAdjust="spacingAndGlyphs">A</text>
<line x1="247.4" y1="106.4" x2="247.4" y2="89.2" stroke="#222" stroke-width="0.7"/>
<polyline points="245.9,91.8 247.4,89.2 248.9,91.8" fill="none" stroke="#222" stroke-width="0.7"/>
<text x="240.6" y="113" font-size="10" fill="#1a1a1a">t<tspan dy="1.6" font-size="5.9">RW</tspan></text>
<path d="M274.8 95.5 H284.2 M274.8 93.3 V97.7 M284.2 93.3 V97.7" stroke="#111" stroke-width="1" fill="none"/>
<text x="277.6" y="105.4" font-size="10" fill="#1a1a1a">t<tspan dy="1.6" font-size="5.9">on</tspan></text>
</g>
<g id="pc">
<polyline points="425.36,41.42 425.24,42.11 425.12,42.81 424.99,43.51 424.86,44.2 424.73,44.86 424.6,45.5 424.49,46.07 424.39,46.57 424.31,47.02 424.22,47.47 424.11,47.95 423.96,48.51 423.76,49.18 423.5,50 423.15,50.99 422.73,52.11 422.25,53.35 421.73,54.66 421.21,56.01 420.69,57.37 420.22,58.71 419.8,60 419.43,61.26 419.09,62.55 418.76,63.84 418.46,65.12 418.17,66.4 417.9,67.64 417.64,68.85 417.4,70 417.18,71.1 416.98,72.14 416.8,73.15 416.64,74.12 416.48,75.09 416.33,76.05 416.17,77.01 416,78 415.82,79 415.64,80 415.45,81 415.26,82 415.08,83 414.91,84 414.75,85 414.6,86 414.47,87 414.35,88 414.25,89 414.15,90 414.06,91 413.97,92 413.89,93 413.8,94 413.71,95.01 413.63,96.02 413.54,97.04 413.46,98.06 413.39,99.07 413.32,100.07 413.25,101.05 413.2,102 413.15,102.97 413.12,103.98 413.09,105.01 413.06,106 413.04,106.93 413.03,107.77 413.01,108.47 413,109" fill="none" stroke="#3d85c6" stroke-width="2.6" stroke-linecap="round" stroke-linejoin="round" opacity="0.8"/>
<polyline points="423.74,49.25 423.5,50 423.15,50.99 422.73,52.11 422.25,53.35 421.73,54.66 421.21,56.01 420.69,57.37 420.22,58.71 419.8,60 419.43,61.26 419.09,62.55 418.76,63.84 418.46,65.12 418.17,66.4 417.9,67.64 417.64,68.85 417.4,70 417.18,71.1 416.98,72.14 416.8,73.15 416.64,74.12 416.48,75.09 416.33,76.05 416.17,77.01 416,78 415.82,79 415.64,80 415.45,81 415.26,82 415.08,83 414.91,84 414.75,85 414.6,86 414.47,87 414.35,88 414.25,89 414.15,90 414.06,91 413.97,92 413.89,93 413.8,94 413.71,95.01 413.63,96.02 413.54,97.04 413.46,98.06 413.39,99.07 413.32,100.07 413.25,101.05 413.2,102 413.15,102.97 413.12,103.98 413.09,105.01 413.06,106 413.04,106.93 413.03,107.77 413.01,108.47 413,109" fill="none" stroke="#3d85c6" stroke-width="4.2" stroke-linecap="round" stroke-linejoin="round"/>
<circle cx="426.4" cy="34.5" r="1.65" fill="#fff" fill-opacity="0.45" stroke="#3d85c6" stroke-width="0.6"/>
<circle cx="426.01" cy="37.27" r="1.65" fill="#fff" fill-opacity="0.45" stroke="#3d85c6" stroke-width="0.6"/>
<circle cx="425.68" cy="39.49" r="1.65" fill="#fff" fill-opacity="0.45" stroke="#3d85c6" stroke-width="0.6"/>
<circle cx="425.39" cy="41.26" r="1.65" fill="#fff" fill-opacity="0.45" stroke="#3d85c6" stroke-width="0.6"/>
<circle cx="425.14" cy="42.67" r="1.65" fill="#fff" fill-opacity="0.45" stroke="#3d85c6" stroke-width="0.6"/>
<circle cx="424.93" cy="43.85" r="1.65" fill="#fff" fill-opacity="0.45" stroke="#3d85c6" stroke-width="0.6"/>
<circle cx="424.7" cy="45.03" r="1.65" fill="#fff" fill-opacity="0.45" stroke="#3d85c6" stroke-width="0.6"/>
<circle cx="424.46" cy="46.2" r="1.65" fill="#fff" fill-opacity="0.45" stroke="#3d85c6" stroke-width="0.6"/>
<circle cx="424.24" cy="47.38" r="1.65" fill="#fff" fill-opacity="0.45" stroke="#3d85c6" stroke-width="0.6"/>
<circle cx="423.95" cy="48.55" r="1.65" fill="#fff" fill-opacity="0.45" stroke="#3d85c6" stroke-width="0.6"/>
<circle cx="423.6" cy="49.69" r="1.65" fill="#fff" fill-opacity="0.45" stroke="#3d85c6" stroke-width="0.6"/>
<polyline points="431.99,41.45 431.89,42.11 431.77,42.81 431.64,43.51 431.51,44.2 431.36,44.86 431.2,45.5 431.04,46.07 430.91,46.57 430.77,47.02 430.61,47.47 430.42,47.95 430.19,48.51 429.88,49.18 429.5,50 429,50.99 428.39,52.11 427.71,53.35 426.98,54.66 426.24,56.01 425.52,57.37 424.86,58.71 424.3,60 423.82,61.26 423.39,62.55 423,63.84 422.65,65.12 422.32,66.4 422.01,67.64 421.7,68.85 421.4,70 421.11,71.1 420.85,72.14 420.61,73.15 420.38,74.12 420.15,75.09 419.92,76.05 419.67,77.01 419.4,78 419.1,79 418.77,80 418.43,81 418.09,82 417.74,83 417.41,84 417.09,85 416.8,86 416.53,87 416.28,88 416.04,89 415.81,90 415.6,91 415.39,92 415.19,93 415,94 414.82,95 414.64,96 414.48,97 414.32,98 414.18,99 414.04,100 413.92,101 413.8,102 413.69,103.05 413.59,104.19 413.5,105.35 413.43,106.5 413.35,107.59 413.29,108.56 413.24,109.38 413.2,110" fill="none" stroke="#1f4fa0" stroke-width="2.6" stroke-linecap="round" stroke-linejoin="round" opacity="0.8"/>
<polyline points="429.9,49.14 429.88,49.18 429.5,50 429,50.99 428.39,52.11 427.71,53.35 426.98,54.66 426.24,56.01 425.52,57.37 424.86,58.71 424.3,60 423.82,61.26 423.39,62.55 423,63.84 422.65,65.12 422.32,66.4 422.01,67.64 421.7,68.85 421.4,70 421.11,71.1 420.85,72.14 420.61,73.15 420.38,74.12 420.15,75.09 419.92,76.05 419.67,77.01 419.4,78 419.1,79 418.77,80 418.43,81 418.09,82 417.74,83 417.41,84 417.09,85 416.8,86 416.53,87 416.28,88 416.04,89 415.81,90 415.6,91 415.39,92 415.19,93 415,94 414.82,95 414.64,96 414.48,97 414.32,98 414.18,99 414.04,100 413.92,101 413.8,102 413.69,103.05 413.59,104.19 413.5,105.35 413.43,106.5 413.35,107.59 413.29,108.56 413.24,109.38 413.2,110" fill="none" stroke="#1f4fa0" stroke-width="4.2" stroke-linecap="round" stroke-linejoin="round"/>
<circle cx="432.8" cy="34.5" r="1.65" fill="#fff" fill-opacity="0.45" stroke="#1f4fa0" stroke-width="0.6"/>
<circle cx="432.52" cy="37.29" r="1.65" fill="#fff" fill-opacity="0.45" stroke="#1f4fa0" stroke-width="0.6"/>
<circle cx="432.27" cy="39.51" r="1.65" fill="#fff" fill-opacity="0.45" stroke="#1f4fa0" stroke-width="0.6"/>
<circle cx="432.01" cy="41.29" r="1.65" fill="#fff" fill-opacity="0.45" stroke="#1f4fa0" stroke-width="0.6"/>
<circle cx="431.79" cy="42.7" r="1.65" fill="#fff" fill-opacity="0.45" stroke="#1f4fa0" stroke-width="0.6"/>
<circle cx="431.57" cy="43.88" r="1.65" fill="#fff" fill-opacity="0.45" stroke="#1f4fa0" stroke-width="0.6"/>
<circle cx="431.31" cy="45.05" r="1.65" fill="#fff" fill-opacity="0.45" stroke="#1f4fa0" stroke-width="0.6"/>
<circle cx="431.01" cy="46.21" r="1.65" fill="#fff" fill-opacity="0.45" stroke="#1f4fa0" stroke-width="0.6"/>
<circle cx="430.65" cy="47.36" r="1.65" fill="#fff" fill-opacity="0.45" stroke="#1f4fa0" stroke-width="0.6"/>
<circle cx="430.2" cy="48.47" r="1.65" fill="#fff" fill-opacity="0.45" stroke="#1f4fa0" stroke-width="0.6"/>
<circle cx="429.7" cy="49.56" r="1.65" fill="#fff" fill-opacity="0.45" stroke="#1f4fa0" stroke-width="0.6"/>
<polyline points="445.8,40.01 445.63,40.31 445.33,40.88 444.99,41.57 444.6,42.4 444.15,43.42 443.63,44.62 443.07,45.95 442.49,47.35 441.91,48.77 441.35,50.15 440.84,51.45 440.4,52.6 440.04,53.59 439.75,54.45 439.5,55.23 439.27,55.98 439.05,56.72 438.82,57.51 438.54,58.39 438.2,59.4 437.8,60.56 437.35,61.84 436.87,63.21 436.38,64.62 435.87,66.05 435.36,67.44 434.87,68.77 434.4,70 433.96,71.13 433.52,72.21 433.1,73.23 432.67,74.22 432.26,75.19 431.84,76.13 431.42,77.07 431,78 430.57,78.92 430.14,79.82 429.7,80.7 429.26,81.56 428.83,82.42 428.41,83.27 428,84.13 427.6,85 427.22,85.88 426.85,86.76 426.5,87.64 426.15,88.52 425.81,89.4 425.47,90.28 425.14,91.14 424.8,92 424.47,92.85 424.15,93.68 423.84,94.51 423.52,95.34 423.21,96.16 422.89,96.97 422.55,97.79 422.2,98.6 421.83,99.41 421.45,100.22 421.05,101.03 420.65,101.84 420.24,102.64 419.83,103.43 419.41,104.22 419,105 418.57,105.79 418.12,106.6 417.65,107.41 417.19,108.21 416.74,108.99 416.31,109.72 415.93,110.4 415.6,111 415.32,111.54 415.08,112.03 414.87,112.48 414.69,112.88 414.53,113.23 414.4,113.53 414.29,113.79 414.2,114" fill="none" stroke="#f4502e" stroke-width="2.85" stroke-linecap="round" stroke-linejoin="round" opacity="0.8"/>
<polyline points="442.51,47.29 442.49,47.35 441.91,48.77 441.35,50.15 440.84,51.45 440.4,52.6 440.04,53.59 439.75,54.45 439.5,55.23 439.27,55.98 439.05,56.72 438.82,57.51 438.54,58.39 438.2,59.4 437.8,60.56 437.35,61.84 436.87,63.21 436.38,64.62 435.87,66.05 435.36,67.44 434.87,68.77 434.4,70 433.96,71.13 433.52,72.21 433.1,73.23 432.67,74.22 432.26,75.19 431.84,76.13 431.42,77.07 431,78 430.57,78.92 430.14,79.82 429.7,80.7 429.26,81.56 428.83,82.42 428.41,83.27 428,84.13 427.6,85 427.22,85.88 426.85,86.76 426.5,87.64 426.15,88.52 425.81,89.4 425.47,90.28 425.14,91.14 424.8,92 424.47,92.85 424.15,93.68 423.84,94.51 423.52,95.34 423.21,96.16 422.89,96.97 422.55,97.79 422.2,98.6 421.83,99.41 421.45,100.22 421.05,101.03 420.65,101.84 420.24,102.64 419.83,103.43 419.41,104.22 419,105 418.57,105.79 418.12,106.6 417.65,107.41 417.19,108.21 416.74,108.99 416.31,109.72 415.93,110.4 415.6,111 415.32,111.54 415.08,112.03 414.87,112.48 414.69,112.88 414.53,113.23 414.4,113.53 414.29,113.79 414.2,114" fill="none" stroke="#f4502e" stroke-width="4.6" stroke-linecap="round" stroke-linejoin="round"/>
<circle cx="449.4" cy="34" r="1.65" fill="#fff" fill-opacity="0.45" stroke="#f4502e" stroke-width="0.6"/>
<circle cx="447.95" cy="36.39" r="1.65" fill="#fff" fill-opacity="0.45" stroke="#f4502e" stroke-width="0.6"/>
<circle cx="446.81" cy="38.32" r="1.65" fill="#fff" fill-opacity="0.45" stroke="#f4502e" stroke-width="0.6"/>
<circle cx="445.89" cy="39.86" r="1.65" fill="#fff" fill-opacity="0.45" stroke="#f4502e" stroke-width="0.6"/>
<circle cx="445.21" cy="41.12" r="1.65" fill="#fff" fill-opacity="0.45" stroke="#f4502e" stroke-width="0.6"/>
<circle cx="444.69" cy="42.2" r="1.65" fill="#fff" fill-opacity="0.45" stroke="#f4502e" stroke-width="0.6"/>
<circle cx="444.2" cy="43.3" r="1.65" fill="#fff" fill-opacity="0.45" stroke="#f4502e" stroke-width="0.6"/>
<circle cx="443.72" cy="44.4" r="1.65" fill="#fff" fill-opacity="0.45" stroke="#f4502e" stroke-width="0.6"/>
<circle cx="443.26" cy="45.51" r="1.65" fill="#fff" fill-opacity="0.45" stroke="#f4502e" stroke-width="0.6"/>
<circle cx="442.79" cy="46.61" r="1.65" fill="#fff" fill-opacity="0.45" stroke="#f4502e" stroke-width="0.6"/>
<circle cx="442.34" cy="47.72" r="1.65" fill="#fff" fill-opacity="0.45" stroke="#f4502e" stroke-width="0.6"/>
<polyline points="441.52,37.58 441.43,37.78 441.16,38.39 440.89,39.02 440.6,39.67 440.3,40.37 439.97,41.14 439.6,42 439.19,42.96 438.73,44.02 438.24,45.15 437.74,46.32 437.23,47.52 436.73,48.71 436.25,49.88 435.8,51 435.4,52.06 435.05,53.09 434.71,54.1 434.39,55.1 434.05,56.12 433.69,57.16 433.27,58.25 432.8,59.4 432.25,60.64 431.63,61.96 430.97,63.33 430.27,64.73 429.57,66.12 428.88,67.48 428.22,68.78 427.6,70 427.03,71.13 426.47,72.21 425.94,73.23 425.43,74.22 424.92,75.19 424.41,76.13 423.91,77.07 423.4,78 422.88,78.92 422.36,79.82 421.83,80.7 421.31,81.56 420.8,82.42 420.31,83.27 419.84,84.13 419.4,85 418.99,85.88 418.59,86.76 418.22,87.64 417.86,88.52 417.52,89.4 417.2,90.28 416.89,91.14 416.6,92 416.32,92.85 416.07,93.71 415.83,94.56 415.6,95.4 415.39,96.23 415.18,97.04 414.99,97.84 414.8,98.6 414.62,99.34 414.44,100.07 414.28,100.77 414.12,101.46 413.97,102.13 413.84,102.78 413.71,103.4 413.6,104 413.5,104.59 413.41,105.19 413.34,105.78 413.28,106.34 413.22,106.85 413.17,107.31 413.13,107.7 413.1,108" fill="none" stroke="#d01c1c" stroke-width="2.98" stroke-linecap="round" stroke-linejoin="round" opacity="0.8"/>
<polyline points="438.34,44.92 438.24,45.15 437.74,46.32 437.23,47.52 436.73,48.71 436.25,49.88 435.8,51 435.4,52.06 435.05,53.09 434.71,54.1 434.39,55.1 434.05,56.12 433.69,57.16 433.27,58.25 432.8,59.4 432.25,60.64 431.63,61.96 430.97,63.33 430.27,64.73 429.57,66.12 428.88,67.48 428.22,68.78 427.6,70 427.03,71.13 426.47,72.21 425.94,73.23 425.43,74.22 424.92,75.19 424.41,76.13 423.91,77.07 423.4,78 422.88,78.92 422.36,79.82 421.83,80.7 421.31,81.56 420.8,82.42 420.31,83.27 419.84,84.13 419.4,85 418.99,85.88 418.59,86.76 418.22,87.64 417.86,88.52 417.52,89.4 417.2,90.28 416.89,91.14 416.6,92 416.32,92.85 416.07,93.71 415.83,94.56 415.6,95.4 415.39,96.23 415.18,97.04 414.99,97.84 414.8,98.6 414.62,99.34 414.44,100.07 414.28,100.77 414.12,101.46 413.97,102.13 413.84,102.78 413.71,103.4 413.6,104 413.5,104.59 413.41,105.19 413.34,105.78 413.28,106.34 413.22,106.85 413.17,107.31 413.13,107.7 413.1,108" fill="none" stroke="#d01c1c" stroke-width="4.8" stroke-linecap="round" stroke-linejoin="round"/>
<circle cx="444.4" cy="31.2" r="1.65" fill="#fff" fill-opacity="0.45" stroke="#d01c1c" stroke-width="0.6"/>
<circle cx="443.24" cy="33.75" r="1.65" fill="#fff" fill-opacity="0.45" stroke="#d01c1c" stroke-width="0.6"/>
<circle cx="442.32" cy="35.79" r="1.65" fill="#fff" fill-opacity="0.45" stroke="#d01c1c" stroke-width="0.6"/>
<circle cx="441.59" cy="37.43" r="1.65" fill="#fff" fill-opacity="0.45" stroke="#d01c1c" stroke-width="0.6"/>
<circle cx="441.01" cy="38.74" r="1.65" fill="#fff" fill-opacity="0.45" stroke="#d01c1c" stroke-width="0.6"/>
<circle cx="440.53" cy="39.84" r="1.65" fill="#fff" fill-opacity="0.45" stroke="#d01c1c" stroke-width="0.6"/>
<circle cx="440.05" cy="40.94" r="1.65" fill="#fff" fill-opacity="0.45" stroke="#d01c1c" stroke-width="0.6"/>
<circle cx="439.58" cy="42.04" r="1.65" fill="#fff" fill-opacity="0.45" stroke="#d01c1c" stroke-width="0.6"/>
<circle cx="439.11" cy="43.15" r="1.65" fill="#fff" fill-opacity="0.45" stroke="#d01c1c" stroke-width="0.6"/>
<circle cx="438.63" cy="44.25" r="1.65" fill="#fff" fill-opacity="0.45" stroke="#d01c1c" stroke-width="0.6"/>
<circle cx="438.16" cy="45.35" r="1.65" fill="#fff" fill-opacity="0.45" stroke="#d01c1c" stroke-width="0.6"/>
<polyline points="471.95,34.1 471.64,34.77 471.3,35.5 470.97,36.21 470.64,36.94 470.29,37.71 469.9,38.56 469.48,39.51 469,40.6 468.43,41.9 467.76,43.42 467.04,45.08 466.29,46.8 465.55,48.49 464.87,50.08 464.27,51.47 463.8,52.6 463.49,53.36 463.32,53.81 463.25,54.04 463.23,54.18 463.2,54.33 463.12,54.61 462.94,55.13 462.6,56 462.08,57.28 461.41,58.9 460.64,60.74 459.82,62.71 458.99,64.72 458.19,66.67 457.48,68.46 456.9,70 456.44,71.29 456.07,72.45 455.75,73.48 455.49,74.44 455.25,75.34 455.04,76.21 454.83,77.09 454.6,78 454.38,78.92 454.18,79.8 454,80.65 453.83,81.5 453.66,82.35 453.48,83.2 453.3,84.08 453.1,85 452.88,85.97 452.63,86.99 452.38,88.03 452.12,89.09 451.87,90.13 451.63,91.15 451.4,92.11 451.2,93 451.03,93.83 450.88,94.61 450.75,95.35 450.62,96.05 450.51,96.72 450.38,97.37 450.25,97.99 450.1,98.6 449.92,99.2 449.72,99.81 449.5,100.39 449.28,100.95 449.07,101.46 448.88,101.92 448.72,102.3 448.6,102.6" fill="none" stroke="#8fd694" stroke-width="2.6" stroke-linecap="round" stroke-linejoin="round" opacity="0.8"/>
<polyline points="468.65,41.39 468.43,41.9 467.76,43.42 467.04,45.08 466.29,46.8 465.55,48.49 464.87,50.08 464.27,51.47 463.8,52.6 463.49,53.36 463.32,53.81 463.25,54.04 463.23,54.18 463.2,54.33 463.12,54.61 462.94,55.13 462.6,56 462.08,57.28 461.41,58.9 460.64,60.74 459.82,62.71 458.99,64.72 458.19,66.67 457.48,68.46 456.9,70 456.44,71.29 456.07,72.45 455.75,73.48 455.49,74.44 455.25,75.34 455.04,76.21 454.83,77.09 454.6,78 454.38,78.92 454.18,79.8 454,80.65 453.83,81.5 453.66,82.35 453.48,83.2 453.3,84.08 453.1,85 452.88,85.97 452.63,86.99 452.38,88.03 452.12,89.09 451.87,90.13 451.63,91.15 451.4,92.11 451.2,93 451.03,93.83 450.88,94.61 450.75,95.35 450.62,96.05 450.51,96.72 450.38,97.37 450.25,97.99 450.1,98.6 449.92,99.2 449.72,99.81 449.5,100.39 449.28,100.95 449.07,101.46 448.88,101.92 448.72,102.3 448.6,102.6" fill="none" stroke="#8fd694" stroke-width="4.2" stroke-linecap="round" stroke-linejoin="round"/>
<circle cx="475" cy="27.8" r="1.65" fill="#fff" fill-opacity="0.45" stroke="#8fd694" stroke-width="0.6"/>
<circle cx="473.77" cy="30.32" r="1.65" fill="#fff" fill-opacity="0.45" stroke="#8fd694" stroke-width="0.6"/>
<circle cx="472.79" cy="32.33" r="1.65" fill="#fff" fill-opacity="0.45" stroke="#8fd694" stroke-width="0.6"/>
<circle cx="472.02" cy="33.95" r="1.65" fill="#fff" fill-opacity="0.45" stroke="#8fd694" stroke-width="0.6"/>
<circle cx="471.42" cy="35.25" r="1.65" fill="#fff" fill-opacity="0.45" stroke="#8fd694" stroke-width="0.6"/>
<circle cx="470.91" cy="36.34" r="1.65" fill="#fff" fill-opacity="0.45" stroke="#8fd694" stroke-width="0.6"/>
<circle cx="470.41" cy="37.43" r="1.65" fill="#fff" fill-opacity="0.45" stroke="#8fd694" stroke-width="0.6"/>
<circle cx="469.92" cy="38.52" r="1.65" fill="#fff" fill-opacity="0.45" stroke="#8fd694" stroke-width="0.6"/>
<circle cx="469.43" cy="39.62" r="1.65" fill="#fff" fill-opacity="0.45" stroke="#8fd694" stroke-width="0.6"/>
<circle cx="468.95" cy="40.72" r="1.65" fill="#fff" fill-opacity="0.45" stroke="#8fd694" stroke-width="0.6"/>
<circle cx="468.47" cy="41.82" r="1.65" fill="#fff" fill-opacity="0.45" stroke="#8fd694" stroke-width="0.6"/>
<circle cx="448.2" cy="103.2" r="1.5" fill="#fff" fill-opacity="0.5" stroke="#8fd694" stroke-width="0.7"/>
<circle cx="446" cy="105.6" r="1.5" fill="#fff" fill-opacity="0.5" stroke="#8fd694" stroke-width="0.7"/>
<circle cx="443.6" cy="107.6" r="1.5" fill="#fff" fill-opacity="0.5" stroke="#8fd694" stroke-width="0.7"/>
<circle cx="441" cy="109.5" r="1.5" fill="#fff" fill-opacity="0.5" stroke="#8fd694" stroke-width="0.7"/>
<circle cx="438" cy="111.2" r="1.5" fill="#fff" fill-opacity="0.5" stroke="#8fd694" stroke-width="0.7"/>
<circle cx="435" cy="112.6" r="1.5" fill="#fff" fill-opacity="0.5" stroke="#8fd694" stroke-width="0.7"/>
<circle cx="432" cy="114" r="1.5" fill="#fff" fill-opacity="0.5" stroke="#8fd694" stroke-width="0.7"/>
<circle cx="429.4" cy="115.2" r="1.5" fill="#fff" fill-opacity="0.5" stroke="#8fd694" stroke-width="0.7"/>
<circle cx="427" cy="116.4" r="1.5" fill="#fff" fill-opacity="0.5" stroke="#8fd694" stroke-width="0.7"/>
<circle cx="424.5" cy="117.6" r="1.5" fill="#fff" fill-opacity="0.5" stroke="#8fd694" stroke-width="0.7"/>
<circle cx="421" cy="118.2" r="1.5" fill="#fff" fill-opacity="0.5" stroke="#8fd694" stroke-width="0.7"/>
<polyline points="448.2,103.2 446,105.6 443.6,107.6 441,109.5 438,111.2" fill="none" stroke="#8fd694" stroke-width="2.4" stroke-linecap="round" opacity="0.75"/>
<polyline points="466.93,34.18 466.68,34.78 466.39,35.53 466.1,36.28 465.82,37.04 465.53,37.83 465.22,38.67 464.88,39.59 464.5,40.6 464.07,41.76 463.6,43.06 463.1,44.46 462.58,45.9 462.06,47.33 461.54,48.69 461.05,49.93 460.6,51 460.2,51.82 459.86,52.42 459.54,52.88 459.23,53.27 458.91,53.7 458.54,54.24 458.11,54.98 457.6,56 456.99,57.36 456.29,59.02 455.53,60.87 454.74,62.84 453.92,64.82 453.11,66.74 452.33,68.49 451.6,70 450.91,71.26 450.25,72.35 449.6,73.33 448.96,74.21 448.33,75.05 447.7,75.86 447.05,76.7 446.4,77.6 445.75,78.53 445.11,79.46 444.48,80.38 443.84,81.3 443.18,82.22 442.5,83.14 441.77,84.07 441,85 440.17,85.95 439.3,86.92 438.38,87.91 437.44,88.89 436.48,89.86 435.51,90.81 434.55,91.73 433.6,92.6 432.64,93.44 431.65,94.25 430.65,95.04 429.65,95.8 428.67,96.54 427.72,97.25 426.83,97.94 426,98.6 425.25,99.23 424.57,99.83 423.93,100.4 423.34,100.95 422.76,101.48 422.19,101.99 421.61,102.5 421,103 420.36,103.5 419.69,104.01 419.02,104.51 418.35,104.99 417.7,105.45 417.08,105.87 416.51,106.26 416,106.6 415.54,106.89 415.12,107.14 414.73,107.35 414.39,107.52 414.08,107.67 413.81,107.8 413.58,107.91 413.4,108" fill="none" stroke="#15883a" stroke-width="2.85" stroke-linecap="round" stroke-linejoin="round" opacity="0.8"/>
<polyline points="464.11,41.67 464.07,41.76 463.6,43.06 463.1,44.46 462.58,45.9 462.06,47.33 461.54,48.69 461.05,49.93 460.6,51 460.2,51.82 459.86,52.42 459.54,52.88 459.23,53.27 458.91,53.7 458.54,54.24 458.11,54.98 457.6,56 456.99,57.36 456.29,59.02 455.53,60.87 454.74,62.84 453.92,64.82 453.11,66.74 452.33,68.49 451.6,70 450.91,71.26 450.25,72.35 449.6,73.33 448.96,74.21 448.33,75.05 447.7,75.86 447.05,76.7 446.4,77.6 445.75,78.53 445.11,79.46 444.48,80.38 443.84,81.3 443.18,82.22 442.5,83.14 441.77,84.07 441,85 440.17,85.95 439.3,86.92 438.38,87.91 437.44,88.89 436.48,89.86 435.51,90.81 434.55,91.73 433.6,92.6 432.64,93.44 431.65,94.25 430.65,95.04 429.65,95.8 428.67,96.54 427.72,97.25 426.83,97.94 426,98.6 425.25,99.23 424.57,99.83 423.93,100.4 423.34,100.95 422.76,101.48 422.19,101.99 421.61,102.5 421,103 420.36,103.5 419.69,104.01 419.02,104.51 418.35,104.99 417.7,105.45 417.08,105.87 416.51,106.26 416,106.6 415.54,106.89 415.12,107.14 414.73,107.35 414.39,107.52 414.08,107.67 413.81,107.8 413.58,107.91 413.4,108" fill="none" stroke="#15883a" stroke-width="4.6" stroke-linecap="round" stroke-linejoin="round"/>
<circle cx="469.8" cy="27.8" r="1.65" fill="#fff" fill-opacity="0.45" stroke="#15883a" stroke-width="0.6"/>
<circle cx="468.62" cy="30.34" r="1.65" fill="#fff" fill-opacity="0.45" stroke="#15883a" stroke-width="0.6"/>
<circle cx="467.7" cy="32.38" r="1.65" fill="#fff" fill-opacity="0.45" stroke="#15883a" stroke-width="0.6"/>
<circle cx="466.99" cy="34.03" r="1.65" fill="#fff" fill-opacity="0.45" stroke="#15883a" stroke-width="0.6"/>
<circle cx="466.46" cy="35.36" r="1.65" fill="#fff" fill-opacity="0.45" stroke="#15883a" stroke-width="0.6"/>
<circle cx="466.03" cy="36.48" r="1.65" fill="#fff" fill-opacity="0.45" stroke="#15883a" stroke-width="0.6"/>
<circle cx="465.61" cy="37.6" r="1.65" fill="#fff" fill-opacity="0.45" stroke="#15883a" stroke-width="0.6"/>
<circle cx="465.2" cy="38.73" r="1.65" fill="#fff" fill-opacity="0.45" stroke="#15883a" stroke-width="0.6"/>
<circle cx="464.78" cy="39.85" r="1.65" fill="#fff" fill-opacity="0.45" stroke="#15883a" stroke-width="0.6"/>
<circle cx="464.36" cy="40.98" r="1.65" fill="#fff" fill-opacity="0.45" stroke="#15883a" stroke-width="0.6"/>
<circle cx="463.95" cy="42.11" r="1.65" fill="#fff" fill-opacity="0.45" stroke="#15883a" stroke-width="0.6"/>
<circle cx="415.6" cy="107.2" r="1.3" fill="#fff" stroke="#15883a" stroke-width="0.5"/>
<polyline points="485.99,44.01 485.63,44.85 485.24,45.73 484.85,46.63 484.45,47.52 484.06,48.42 483.68,49.31 483.33,50.17 483,51 482.71,51.78 482.46,52.52 482.24,53.24 482.03,53.94 481.81,54.65 481.57,55.38 481.31,56.16 481,57 480.64,57.9 480.23,58.86 479.79,59.85 479.34,60.88 478.88,61.91 478.43,62.95 478,63.99 477.6,65 477.24,66 476.9,67 476.58,68 476.26,69 475.95,70 475.65,71 475.33,72 475,73 474.65,74.01 474.29,75.02 473.92,76.04 473.54,77.06 473.18,78.07 472.83,79.07 472.5,80.05 472.2,81 471.93,81.92 471.69,82.82 471.46,83.7 471.25,84.56 471.05,85.42 470.86,86.27 470.68,87.13 470.5,88 470.32,88.89 470.15,89.8 469.99,90.71 469.84,91.62 469.69,92.52 469.55,93.39 469.42,94.22 469.3,95 469.19,95.73 469.1,96.42 469.02,97.08 468.95,97.71 468.88,98.32 468.8,98.9 468.71,99.46 468.6,100 468.49,100.53 468.39,101.03 468.28,101.51 468.17,101.98 468.03,102.41 467.87,102.83 467.66,103.23 467.4,103.6 467.06,103.96 466.62,104.3 466.14,104.62 465.62,104.92 465.12,105.2 464.66,105.44 464.28,105.64 464,105.8" fill="none" stroke="#8e7cc8" stroke-width="2.48" stroke-linecap="round" stroke-linejoin="round" opacity="0.8"/>
<polyline points="482.86,51.37 482.71,51.78 482.46,52.52 482.24,53.24 482.03,53.94 481.81,54.65 481.57,55.38 481.31,56.16 481,57 480.64,57.9 480.23,58.86 479.79,59.85 479.34,60.88 478.88,61.91 478.43,62.95 478,63.99 477.6,65 477.24,66 476.9,67 476.58,68 476.26,69 475.95,70 475.65,71 475.33,72 475,73 474.65,74.01 474.29,75.02 473.92,76.04 473.54,77.06 473.18,78.07 472.83,79.07 472.5,80.05 472.2,81 471.93,81.92 471.69,82.82 471.46,83.7 471.25,84.56 471.05,85.42 470.86,86.27 470.68,87.13 470.5,88 470.32,88.89 470.15,89.8 469.99,90.71 469.84,91.62 469.69,92.52 469.55,93.39 469.42,94.22 469.3,95 469.19,95.73 469.1,96.42 469.02,97.08 468.95,97.71 468.88,98.32 468.8,98.9 468.71,99.46 468.6,100 468.49,100.53 468.39,101.03 468.28,101.51 468.17,101.98 468.03,102.41 467.87,102.83 467.66,103.23 467.4,103.6 467.06,103.96 466.62,104.3 466.14,104.62 465.62,104.92 465.12,105.2 464.66,105.44 464.28,105.64 464,105.8" fill="none" stroke="#8e7cc8" stroke-width="4" stroke-linecap="round" stroke-linejoin="round"/>
<circle cx="488.8" cy="37.6" r="1.65" fill="#fff" fill-opacity="0.45" stroke="#8e7cc8" stroke-width="0.6"/>
<circle cx="487.67" cy="40.16" r="1.65" fill="#fff" fill-opacity="0.45" stroke="#8e7cc8" stroke-width="0.6"/>
<circle cx="486.78" cy="42.22" r="1.65" fill="#fff" fill-opacity="0.45" stroke="#8e7cc8" stroke-width="0.6"/>
<circle cx="486.06" cy="43.86" r="1.65" fill="#fff" fill-opacity="0.45" stroke="#8e7cc8" stroke-width="0.6"/>
<circle cx="485.49" cy="45.17" r="1.65" fill="#fff" fill-opacity="0.45" stroke="#8e7cc8" stroke-width="0.6"/>
<circle cx="485" cy="46.27" r="1.65" fill="#fff" fill-opacity="0.45" stroke="#8e7cc8" stroke-width="0.6"/>
<circle cx="484.52" cy="47.37" r="1.65" fill="#fff" fill-opacity="0.45" stroke="#8e7cc8" stroke-width="0.6"/>
<circle cx="484.04" cy="48.47" r="1.65" fill="#fff" fill-opacity="0.45" stroke="#8e7cc8" stroke-width="0.6"/>
<circle cx="483.57" cy="49.57" r="1.65" fill="#fff" fill-opacity="0.45" stroke="#8e7cc8" stroke-width="0.6"/>
<circle cx="483.12" cy="50.69" r="1.65" fill="#fff" fill-opacity="0.45" stroke="#8e7cc8" stroke-width="0.6"/>
<circle cx="482.7" cy="51.81" r="1.65" fill="#fff" fill-opacity="0.45" stroke="#8e7cc8" stroke-width="0.6"/>
<polyline points="486.94,34.63 486.59,35.32 486.1,36.31 485.56,37.43 484.99,38.64 484.39,39.9 483.78,41.18 483.18,42.42 482.6,43.6 482.02,44.75 481.41,45.93 480.78,47.11 480.16,48.29 479.56,49.45 478.99,50.56 478.46,51.62 478,52.6 477.63,53.44 477.34,54.11 477.1,54.7 476.89,55.26 476.69,55.87 476.46,56.58 476.17,57.47 475.8,58.6 475.34,60.04 474.8,61.76 474.21,63.67 473.59,65.67 472.97,67.7 472.37,69.65 471.8,71.45 471.3,73 470.86,74.31 470.45,75.47 470.07,76.51 469.72,77.46 469.38,78.35 469.05,79.22 468.73,80.09 468.4,81 468.08,81.92 467.76,82.81 467.46,83.67 467.17,84.52 466.88,85.38 466.59,86.23 466.3,87.1 466,88 465.7,88.95 465.4,89.94 465.11,90.96 464.81,91.99 464.51,92.99 464.21,93.94 463.91,94.82 463.6,95.6 463.29,96.27 462.97,96.86 462.66,97.37 462.34,97.84 462.01,98.27 461.68,98.7 461.35,99.13 461,99.6 460.62,100.11 460.21,100.65 459.77,101.21 459.34,101.75 458.92,102.26 458.55,102.72 458.23,103.11 458,103.4" fill="none" stroke="#44119a" stroke-width="2.85" stroke-linecap="round" stroke-linejoin="round" opacity="0.8"/>
<polyline points="483.46,41.83 483.18,42.42 482.6,43.6 482.02,44.75 481.41,45.93 480.78,47.11 480.16,48.29 479.56,49.45 478.99,50.56 478.46,51.62 478,52.6 477.63,53.44 477.34,54.11 477.1,54.7 476.89,55.26 476.69,55.87 476.46,56.58 476.17,57.47 475.8,58.6 475.34,60.04 474.8,61.76 474.21,63.67 473.59,65.67 472.97,67.7 472.37,69.65 471.8,71.45 471.3,73 470.86,74.31 470.45,75.47 470.07,76.51 469.72,77.46 469.38,78.35 469.05,79.22 468.73,80.09 468.4,81 468.08,81.92 467.76,82.81 467.46,83.67 467.17,84.52 466.88,85.38 466.59,86.23 466.3,87.1 466,88 465.7,88.95 465.4,89.94 465.11,90.96 464.81,91.99 464.51,92.99 464.21,93.94 463.91,94.82 463.6,95.6 463.29,96.27 462.97,96.86 462.66,97.37 462.34,97.84 462.01,98.27 461.68,98.7 461.35,99.13 461,99.6 460.62,100.11 460.21,100.65 459.77,101.21 459.34,101.75 458.92,102.26 458.55,102.72 458.23,103.11 458,103.4" fill="none" stroke="#44119a" stroke-width="4.6" stroke-linecap="round" stroke-linejoin="round"/>
<circle cx="490.8" cy="28.8" r="1.65" fill="#fff" fill-opacity="0.45" stroke="#44119a" stroke-width="0.6"/>
<circle cx="489.21" cy="31.1" r="1.65" fill="#fff" fill-opacity="0.45" stroke="#44119a" stroke-width="0.6"/>
<circle cx="487.91" cy="32.93" r="1.65" fill="#fff" fill-opacity="0.45" stroke="#44119a" stroke-width="0.6"/>
<circle cx="487.01" cy="34.48" r="1.65" fill="#fff" fill-opacity="0.45" stroke="#44119a" stroke-width="0.6"/>
<circle cx="486.37" cy="35.76" r="1.65" fill="#fff" fill-opacity="0.45" stroke="#44119a" stroke-width="0.6"/>
<circle cx="485.85" cy="36.84" r="1.65" fill="#fff" fill-opacity="0.45" stroke="#44119a" stroke-width="0.6"/>
<circle cx="485.33" cy="37.92" r="1.65" fill="#fff" fill-opacity="0.45" stroke="#44119a" stroke-width="0.6"/>
<circle cx="484.82" cy="39.01" r="1.65" fill="#fff" fill-opacity="0.45" stroke="#44119a" stroke-width="0.6"/>
<circle cx="484.3" cy="40.09" r="1.65" fill="#fff" fill-opacity="0.45" stroke="#44119a" stroke-width="0.6"/>
<circle cx="483.78" cy="41.17" r="1.65" fill="#fff" fill-opacity="0.45" stroke="#44119a" stroke-width="0.6"/>
<circle cx="483.26" cy="42.25" r="1.65" fill="#fff" fill-opacity="0.45" stroke="#44119a" stroke-width="0.6"/>
<polyline points="458,103.4 456,105.8 453,108.2 450,110.3" fill="none" stroke="#5a2bb0" stroke-width="2.6" stroke-linecap="round" opacity="0.8"/>
<circle cx="458" cy="103.4" r="1.5" fill="#fff" fill-opacity="0.55" stroke="#6a3fc0" stroke-width="0.7"/>
<circle cx="456" cy="105.8" r="1.5" fill="#fff" fill-opacity="0.55" stroke="#6a3fc0" stroke-width="0.7"/>
<circle cx="453" cy="108.2" r="1.5" fill="#fff" fill-opacity="0.55" stroke="#6a3fc0" stroke-width="0.7"/>
<circle cx="450" cy="110.3" r="1.5" fill="#fff" fill-opacity="0.55" stroke="#6a3fc0" stroke-width="0.7"/>
<circle cx="447.4" cy="112" r="1.5" fill="#fff" fill-opacity="0.55" stroke="#6a3fc0" stroke-width="0.7"/>
<circle cx="444.6" cy="113.6" r="1.5" fill="#fff" fill-opacity="0.55" stroke="#6a3fc0" stroke-width="0.7"/>
<circle cx="441.8" cy="114.8" r="1.5" fill="#fff" fill-opacity="0.55" stroke="#6a3fc0" stroke-width="0.7"/>
<circle cx="460.6" cy="106.2" r="1.5" fill="#fff" fill-opacity="0.55" stroke="#6a3fc0" stroke-width="0.7"/>
<circle cx="462.6" cy="106" r="1.5" fill="#fff" fill-opacity="0.55" stroke="#6a3fc0" stroke-width="0.7"/>
<circle cx="452" cy="110.4" r="1.5" fill="#fff" fill-opacity="0.55" stroke="#6a3fc0" stroke-width="0.7"/>
<circle cx="446" cy="114" r="1.5" fill="#fff" fill-opacity="0.55" stroke="#6a3fc0" stroke-width="0.7"/>
<circle cx="443" cy="115.6" r="1.5" fill="#fff" fill-opacity="0.55" stroke="#6a3fc0" stroke-width="0.7"/>
<circle cx="424.5" cy="118.3" r="1.5" fill="#fff" stroke="#7a55c8" stroke-width="0.7"/>
<circle cx="426.5" cy="118.3" r="1.5" fill="none" stroke="#7a55c8" stroke-width="0.7"/>
<polyline points="499.55,39.04 499.52,39.13 499.29,39.79 499,40.6 498.64,41.61 498.22,42.8 497.75,44.13 497.25,45.53 496.74,46.97 496.23,48.39 495.74,49.75 495.3,51 494.9,52.13 494.52,53.19 494.15,54.2 493.8,55.19 493.45,56.18 493.08,57.19 492.7,58.26 492.3,59.4 491.86,60.64 491.38,61.96 490.89,63.33 490.39,64.73 489.89,66.12 489.42,67.48 488.99,68.78 488.6,70 488.26,71.13 487.96,72.21 487.68,73.23 487.43,74.22 487.2,75.19 486.99,76.13 486.79,77.07 486.6,78 486.43,78.92 486.28,79.8 486.15,80.65 486.04,81.5 485.93,82.35 485.83,83.2 485.72,84.08 485.6,85 485.47,85.97 485.35,86.98 485.22,88.01 485.09,89.06 484.96,90.1 484.84,91.12 484.72,92.09 484.6,93 484.49,93.83 484.38,94.59 484.27,95.31 484.16,96 484.06,96.69 483.97,97.41 483.88,98.17 483.8,99 483.73,99.96 483.66,101.05 483.6,102.21 483.55,103.38 483.5,104.5 483.46,105.52 483.43,106.37 483.4,107" fill="none" stroke="#f5821e" stroke-width="2.98" stroke-linecap="round" stroke-linejoin="round" opacity="0.8"/>
<polyline points="496.88,46.58 496.74,46.97 496.23,48.39 495.74,49.75 495.3,51 494.9,52.13 494.52,53.19 494.15,54.2 493.8,55.19 493.45,56.18 493.08,57.19 492.7,58.26 492.3,59.4 491.86,60.64 491.38,61.96 490.89,63.33 490.39,64.73 489.89,66.12 489.42,67.48 488.99,68.78 488.6,70 488.26,71.13 487.96,72.21 487.68,73.23 487.43,74.22 487.2,75.19 486.99,76.13 486.79,77.07 486.6,78 486.43,78.92 486.28,79.8 486.15,80.65 486.04,81.5 485.93,82.35 485.83,83.2 485.72,84.08 485.6,85 485.47,85.97 485.35,86.98 485.22,88.01 485.09,89.06 484.96,90.1 484.84,91.12 484.72,92.09 484.6,93 484.49,93.83 484.38,94.59 484.27,95.31 484.16,96 484.06,96.69 483.97,97.41 483.88,98.17 483.8,99 483.73,99.96 483.66,101.05 483.6,102.21 483.55,103.38 483.5,104.5 483.46,105.52 483.43,106.37 483.4,107" fill="none" stroke="#f5821e" stroke-width="4.8" stroke-linecap="round" stroke-linejoin="round"/>
<circle cx="501.4" cy="32.3" r="1.65" fill="#fff" fill-opacity="0.45" stroke="#f5821e" stroke-width="0.6"/>
<circle cx="500.78" cy="35.03" r="1.65" fill="#fff" fill-opacity="0.45" stroke="#f5821e" stroke-width="0.6"/>
<circle cx="500.19" cy="37.19" r="1.65" fill="#fff" fill-opacity="0.45" stroke="#f5821e" stroke-width="0.6"/>
<circle cx="499.61" cy="38.89" r="1.65" fill="#fff" fill-opacity="0.45" stroke="#f5821e" stroke-width="0.6"/>
<circle cx="499.13" cy="40.24" r="1.65" fill="#fff" fill-opacity="0.45" stroke="#f5821e" stroke-width="0.6"/>
<circle cx="498.73" cy="41.37" r="1.65" fill="#fff" fill-opacity="0.45" stroke="#f5821e" stroke-width="0.6"/>
<circle cx="498.33" cy="42.5" r="1.65" fill="#fff" fill-opacity="0.45" stroke="#f5821e" stroke-width="0.6"/>
<circle cx="497.93" cy="43.63" r="1.65" fill="#fff" fill-opacity="0.45" stroke="#f5821e" stroke-width="0.6"/>
<circle cx="497.52" cy="44.76" r="1.65" fill="#fff" fill-opacity="0.45" stroke="#f5821e" stroke-width="0.6"/>
<circle cx="497.12" cy="45.89" r="1.65" fill="#fff" fill-opacity="0.45" stroke="#f5821e" stroke-width="0.6"/>
<circle cx="496.72" cy="47.02" r="1.65" fill="#fff" fill-opacity="0.45" stroke="#f5821e" stroke-width="0.6"/>
<circle cx="482.4" cy="108.6" r="1.5" fill="none" stroke="#f5a45a" stroke-width="0.7"/>
<circle cx="480.4" cy="111" r="1.5" fill="none" stroke="#f5a45a" stroke-width="0.7"/>
<circle cx="484" cy="113.2" r="1.5" fill="none" stroke="#f8c860" stroke-width="0.7"/>
<circle cx="483.2" cy="110.6" r="1.5" fill="none" stroke="#f8c860" stroke-width="0.7"/>
<circle cx="465.3" cy="113.8" r="1.5" fill="none" stroke="#f59a5a" stroke-width="0.7"/>
<circle cx="484.8" cy="28.5" r="1.5" fill="none" stroke="#f08a8a" stroke-width="0.7"/>
<circle cx="484.5" cy="31.6" r="1.5" fill="none" stroke="#f08a8a" stroke-width="0.7"/>
<circle cx="518.4" cy="28.5" r="1.5" fill="none" stroke="#f08a8a" stroke-width="0.7"/>
<circle cx="413" cy="114" r="1.1" fill="none" stroke="#f4502e" stroke-width="0.5"/>
<circle cx="413" cy="118" r="1.1" fill="none" stroke="#f5a45a" stroke-width="0.5"/>
<circle cx="413" cy="121.6" r="1.1" fill="none" stroke="#8e7cc8" stroke-width="0.5"/>
<circle cx="413" cy="124.5" r="1.1" fill="none" stroke="#8e7cc8" stroke-width="0.5"/>
<line x1="418.2" y1="54.2" x2="428.09" y2="58.59" stroke="#000" stroke-width="1.5"/>
<polygon points="425.63,54.77 429,59 423.6,59.34 425.93,57.64" fill="#000"/>
<line x1="440" y1="70" x2="423.77" y2="65.85" stroke="#000" stroke-width="1.5"/>
<polygon points="426.83,69.21 422.8,65.6 428.07,64.37 426.06,66.43" fill="#000"/>
<line x1="457.6" y1="91.4" x2="434.97" y2="85.84" stroke="#000" stroke-width="1.5"/>
<polygon points="438.06,89.17 434,85.6 439.26,84.32 437.26,86.4" fill="#000"/>
<line x1="472.8" y1="100.8" x2="458.55" y2="96.11" stroke="#000" stroke-width="1.5"/>
<polygon points="461.38,99.67 457.6,95.8 462.94,94.93 460.79,96.85" fill="#000"/>
<line x1="488.6" y1="107.3" x2="478.26" y2="104.46" stroke="#000" stroke-width="1.5"/>
<polygon points="481.27,107.88 477.3,104.2 482.59,103.06 480.54,105.09" fill="#000"/>
<rect x="412.6" y="22" width="106.2" height="106.9" fill="none" stroke="#555" stroke-width="0.6"/>
<line x1="412.6" y1="22.01" x2="410.6" y2="22.01" stroke="#333" stroke-width="0.6"/>
<text x="409.4" y="24.51" font-size="7" fill="#333" text-anchor="end">0.9999</text>
<line x1="412.6" y1="31.05" x2="410.6" y2="31.05" stroke="#333" stroke-width="0.6"/>
<text x="409.4" y="33.55" font-size="7" fill="#333" text-anchor="end">0.999</text>
<line x1="412.6" y1="42.03" x2="410.6" y2="42.03" stroke="#333" stroke-width="0.6"/>
<text x="409.4" y="44.53" font-size="7" fill="#333" text-anchor="end">0.99</text>
<line x1="412.6" y1="57.03" x2="410.6" y2="57.03" stroke="#333" stroke-width="0.6"/>
<text x="409.4" y="59.53" font-size="7" fill="#333" text-anchor="end">0.9</text>
<line x1="412.6" y1="65.76" x2="410.6" y2="65.76" stroke="#333" stroke-width="0.6"/>
<text x="409.4" y="68.26" font-size="7" fill="#333" text-anchor="end">0.75</text>
<line x1="412.6" y1="75.45" x2="410.6" y2="75.45" stroke="#333" stroke-width="0.6"/>
<text x="409.4" y="77.95" font-size="7" fill="#333" text-anchor="end">0.5</text>
<line x1="412.6" y1="85.14" x2="410.6" y2="85.14" stroke="#333" stroke-width="0.6"/>
<text x="409.4" y="87.64" font-size="7" fill="#333" text-anchor="end">0.25</text>
<line x1="412.6" y1="93.87" x2="410.6" y2="93.87" stroke="#333" stroke-width="0.6"/>
<text x="409.4" y="96.37" font-size="7" fill="#333" text-anchor="end">0.1</text>
<line x1="412.6" y1="108.87" x2="410.6" y2="108.87" stroke="#333" stroke-width="0.6"/>
<text x="409.4" y="111.37" font-size="7" fill="#333" text-anchor="end">0.01</text>
<line x1="412.6" y1="119.85" x2="410.6" y2="119.85" stroke="#333" stroke-width="0.6"/>
<text x="409.4" y="122.35" font-size="7" fill="#333" text-anchor="end">0.001</text>
<line x1="412.6" y1="128.89" x2="410.6" y2="128.89" stroke="#333" stroke-width="0.6"/>
<text x="409.4" y="131.39" font-size="7" fill="#333" text-anchor="end">0.0001</text>
<line x1="412.6" y1="128.9" x2="412.6" y2="130.9" stroke="#333" stroke-width="0.6"/>
<text x="412.6" y="137.6" font-size="7" fill="#333" text-anchor="middle">0</text>
<line x1="448" y1="128.9" x2="448" y2="130.9" stroke="#333" stroke-width="0.6"/>
<text x="448" y="137.6" font-size="7" fill="#333" text-anchor="middle">50</text>
<line x1="483.4" y1="128.9" x2="483.4" y2="130.9" stroke="#333" stroke-width="0.6"/>
<text x="483.4" y="137.6" font-size="7" fill="#333" text-anchor="middle">100</text>
<line x1="518.8" y1="128.9" x2="518.8" y2="130.9" stroke="#333" stroke-width="0.6"/>
<text x="518.8" y="137.6" font-size="7" fill="#333" text-anchor="middle">150</text>
<text x="466" y="146" font-size="7.1" fill="#333" text-anchor="middle">G [μA]</text>
<text transform="translate(384.5,75.1) rotate(-90)" font-size="7.2" fill="#333" text-anchor="middle">CDF</text>
<text x="364.4" y="23.2" font-size="12" fill="#1a1a1a" text-anchor="start" textLength="13.8" lengthAdjust="spacingAndGlyphs" stroke="#1a1a1a" stroke-width="0.15">(c)</text>
<text x="424.4" y="17.4" font-size="10" fill="#6fa6da">L<tspan dy="2.1" font-size="6.6">1</tspan></text>
<text x="444.2" y="17.4" font-size="10" fill="#e8302a">L<tspan dy="2.1" font-size="6.6">2</tspan></text>
<text x="471.4" y="17.4" font-size="10" fill="#22a052">L<tspan dy="2.1" font-size="6.6">3</tspan></text>
<text x="491" y="17.4" font-size="10" fill="#a690d4">L<tspan dy="2.1" font-size="6.6">4</tspan></text>
<text x="504.8" y="17.4" font-size="10" fill="#f1b82a">L<tspan dy="2.1" font-size="6.6">5</tspan></text>
</g>
<g id="pd">
<text x="8.8" y="165.1" font-size="12" fill="#1a1a1a" text-anchor="start" textLength="15.4" lengthAdjust="spacingAndGlyphs" stroke="#1a1a1a" stroke-width="0.15">(d)</text>
<polygon points="23.8,212.3 79.9,180.1 79.9,250 23.8,280.5" fill="#fff" stroke="#0a0a0a" stroke-width="2.3" stroke-linejoin="miter"/>
<g transform="matrix(2.004,-1.15,0,2.436,23.8,212.3)" fill="#160808"><rect x="6.92" y="4.85" width="8.16" height="1.3"/><rect x="6.92" y="5.85" width="3.16" height="1.3"/><rect x="6.92" y="6.85" width="2.16" height="1.3"/><rect x="6.92" y="7.85" width="1.16" height="1.3"/></g>
<g transform="matrix(2.004,-1.15,0,2.436,23.8,212.3)" fill="#160808"><rect x="8.92" y="11.85" width="1.16" height="1.3"/><rect x="8.92" y="12.85" width="1.16" height="1.3"/><rect x="8.92" y="13.85" width="1.16" height="1.3"/></g>
<polygon points="44.8,214 100.7,182.4 100.7,251.9 44.8,283.7" fill="#fff" stroke="#0a0a0a" stroke-width="2.3" stroke-linejoin="miter"/>
<g transform="matrix(2,-1.13,0,2.49,44.8,214)" fill="#160808"><rect x="12.92" y="6.85" width="6.16" height="1.3"/><rect x="11.92" y="7.85" width="9.16" height="1.3"/><rect x="10.92" y="8.85" width="2.16" height="1.3"/><rect x="18.92" y="8.85" width="2.16" height="1.3"/><rect x="9.92" y="9.85" width="2.16" height="1.3"/><rect x="18.92" y="9.85" width="1.16" height="1.3"/><rect x="8.92" y="10.85" width="2.16" height="1.3"/><rect x="17.92" y="10.85" width="2.16" height="1.3"/><rect x="7.92" y="11.85" width="2.16" height="1.3"/><rect x="17.92" y="11.85" width="2.16" height="1.3"/><rect x="7.92" y="12.85" width="2.16" height="1.3"/><rect x="16.92" y="12.85" width="2.16" height="1.3"/><rect x="7.92" y="13.85" width="4.16" height="1.3"/><rect x="16.92" y="13.85" width="2.16" height="1.3"/><rect x="8.92" y="14.85" width="9.16" height="1.3"/><rect x="13.92" y="15.85" width="4.16" height="1.3"/><rect x="15.92" y="16.85" width="2.16" height="1.3"/><rect x="14.92" y="17.85" width="2.16" height="1.3"/><rect x="14.92" y="18.85" width="2.16" height="1.3"/><rect x="14.92" y="19.85" width="1.16" height="1.3"/><rect x="13.92" y="20.85" width="2.16" height="1.3"/><rect x="13.92" y="21.85" width="1.16" height="1.3"/><rect x="12.92" y="22.85" width="2.16" height="1.3"/><rect x="12.92" y="23.85" width="1.16" height="1.3"/></g>
<line x1="25.76" y1="203.68" x2="71.44" y2="175.82" stroke="#0a0a0a" stroke-width="2.1"/>
<polygon points="68.83,173.77 75.4,173.4 72.06,179.07" fill="#0a0a0a"/>
<polygon points="25.14,200.43 21.8,206.1 28.37,205.73" fill="#0a0a0a"/>
<line x1="20" y1="218.58" x2="20" y2="276.02" stroke="#0a0a0a" stroke-width="1.9"/>
<polygon points="22.9,274.9 20,280.5 17.1,274.9" fill="#0a0a0a"/>
<polygon points="22.9,219.7 20,214.1 17.1,219.7" fill="#0a0a0a"/>
<text transform="translate(43.9,185.8) rotate(-30.5)" font-size="6" fill="#222" text-anchor="middle">14 pixels</text>
<text transform="translate(14.9,246.3) rotate(-90)" font-size="6" fill="#222" text-anchor="middle">14 pixels</text>
<line x1="122.7" y1="169.5" x2="165.6" y2="196.4" stroke="#828282" stroke-width="1.3"/>
<line x1="122.7" y1="169.5" x2="165.6" y2="210.6" stroke="#828282" stroke-width="1.3"/>
<line x1="122.7" y1="169.5" x2="165.2" y2="250.6" stroke="#828282" stroke-width="1.3"/>
<line x1="122.7" y1="169.5" x2="165.2" y2="265.1" stroke="#828282" stroke-width="1.3"/>
<line x1="122.7" y1="184.3" x2="165.6" y2="196.4" stroke="#828282" stroke-width="1.3"/>
<line x1="122.7" y1="184.3" x2="165.6" y2="210.6" stroke="#828282" stroke-width="1.3"/>
<line x1="122.7" y1="184.3" x2="165.2" y2="250.6" stroke="#828282" stroke-width="1.3"/>
<line x1="122.7" y1="184.3" x2="165.2" y2="265.1" stroke="#828282" stroke-width="1.3"/>
<line x1="122.7" y1="198.1" x2="165.6" y2="196.4" stroke="#828282" stroke-width="1.3"/>
<line x1="122.7" y1="198.1" x2="165.6" y2="210.6" stroke="#828282" stroke-width="1.3"/>
<line x1="122.7" y1="198.1" x2="165.2" y2="250.6" stroke="#828282" stroke-width="1.3"/>
<line x1="122.7" y1="198.1" x2="165.2" y2="265.1" stroke="#828282" stroke-width="1.3"/>
<line x1="117.7" y1="225.5" x2="165.6" y2="196.4" stroke="#828282" stroke-width="1.3"/>
<line x1="117.7" y1="225.5" x2="165.6" y2="210.6" stroke="#828282" stroke-width="1.3"/>
<line x1="117.7" y1="225.5" x2="165.2" y2="250.6" stroke="#828282" stroke-width="1.3"/>
<line x1="117.7" y1="225.5" x2="165.2" y2="265.1" stroke="#828282" stroke-width="1.3"/>
<line x1="123.9" y1="262.6" x2="165.6" y2="196.4" stroke="#828282" stroke-width="1.3"/>
<line x1="123.9" y1="262.6" x2="165.6" y2="210.6" stroke="#828282" stroke-width="1.3"/>
<line x1="123.9" y1="262.6" x2="165.2" y2="250.6" stroke="#828282" stroke-width="1.3"/>
<line x1="123.9" y1="262.6" x2="165.2" y2="265.1" stroke="#828282" stroke-width="1.3"/>
<line x1="123.9" y1="278.1" x2="165.6" y2="196.4" stroke="#828282" stroke-width="1.3"/>
<line x1="123.9" y1="278.1" x2="165.6" y2="210.6" stroke="#828282" stroke-width="1.3"/>
<line x1="123.9" y1="278.1" x2="165.2" y2="250.6" stroke="#828282" stroke-width="1.3"/>
<line x1="123.9" y1="278.1" x2="165.2" y2="265.1" stroke="#828282" stroke-width="1.3"/>
<line x1="180.6" y1="181.8" x2="215.5" y2="195.6" stroke="#828282" stroke-width="1.3"/>
<line x1="180.6" y1="181.8" x2="215.5" y2="210.2" stroke="#828282" stroke-width="1.3"/>
<line x1="180.6" y1="181.8" x2="215.5" y2="253.1" stroke="#828282" stroke-width="1.3"/>
<line x1="180.6" y1="196.4" x2="215.5" y2="195.6" stroke="#828282" stroke-width="1.3"/>
<line x1="180.6" y1="196.4" x2="215.5" y2="210.2" stroke="#828282" stroke-width="1.3"/>
<line x1="180.6" y1="196.4" x2="215.5" y2="253.1" stroke="#828282" stroke-width="1.3"/>
<line x1="180.6" y1="210.6" x2="215.5" y2="195.6" stroke="#828282" stroke-width="1.3"/>
<line x1="180.6" y1="210.6" x2="215.5" y2="210.2" stroke="#828282" stroke-width="1.3"/>
<line x1="180.6" y1="210.6" x2="215.5" y2="253.1" stroke="#828282" stroke-width="1.3"/>
<line x1="176.2" y1="231" x2="215.5" y2="195.6" stroke="#828282" stroke-width="1.3"/>
<line x1="176.2" y1="231" x2="215.5" y2="210.2" stroke="#828282" stroke-width="1.3"/>
<line x1="176.2" y1="231" x2="215.5" y2="253.1" stroke="#828282" stroke-width="1.3"/>
<line x1="180.2" y1="250.6" x2="215.5" y2="195.6" stroke="#828282" stroke-width="1.3"/>
<line x1="180.2" y1="250.6" x2="215.5" y2="210.2" stroke="#828282" stroke-width="1.3"/>
<line x1="180.2" y1="250.6" x2="215.5" y2="253.1" stroke="#828282" stroke-width="1.3"/>
<line x1="180.2" y1="265.1" x2="215.5" y2="195.6" stroke="#828282" stroke-width="1.3"/>
<line x1="180.2" y1="265.1" x2="215.5" y2="210.2" stroke="#828282" stroke-width="1.3"/>
<line x1="180.2" y1="265.1" x2="215.5" y2="253.1" stroke="#828282" stroke-width="1.3"/>
<ellipse cx="115.1" cy="169.5" rx="9" ry="5.4" fill="#0a0aff"/>
<text x="115.1" y="170.58" font-size="5.4" fill="#fff" text-anchor="middle">0</text>
<ellipse cx="115.1" cy="184.3" rx="9" ry="5.4" fill="#0a0aff"/>
<text x="115.1" y="185.38" font-size="5.4" fill="#fff" text-anchor="middle">1</text>
<ellipse cx="115.1" cy="198.1" rx="9" ry="5.4" fill="#0a0aff"/>
<text x="115.1" y="199.18" font-size="5.4" fill="#fff" text-anchor="middle">2</text>
<ellipse cx="116.3" cy="262.6" rx="8.9" ry="6" fill="#0a0aff"/>
<text x="116.3" y="263.44" font-size="4.2" fill="#fff" text-anchor="middle">195</text>
<ellipse cx="116.3" cy="278.1" rx="8.9" ry="6" fill="#0a0aff"/>
<text x="116.3" y="278.94" font-size="4.2" fill="#fff" text-anchor="middle">196</text>
<ellipse cx="173" cy="181.8" rx="9" ry="5.7" fill="#12a9e6"/>
<text x="173" y="182.92" font-size="5.6" fill="#10324a" text-anchor="middle">0</text>
<ellipse cx="173" cy="196.4" rx="9" ry="5.7" fill="#12a9e6"/>
<text x="173" y="197.52" font-size="5.6" fill="#10324a" text-anchor="middle">1</text>
<ellipse cx="173" cy="210.6" rx="9" ry="5.7" fill="#12a9e6"/>
<text x="173" y="211.72" font-size="5.6" fill="#10324a" text-anchor="middle">2</text>
<ellipse cx="172.6" cy="250.6" rx="9" ry="5.8" fill="#12a9e6"/>
<text x="172.6" y="251.76" font-size="5.8" fill="#10324a" text-anchor="middle">18</text>
<ellipse cx="172.6" cy="265.1" rx="9" ry="5.8" fill="#12a9e6"/>
<text x="172.6" y="266.26" font-size="5.8" fill="#10324a" text-anchor="middle">19</text>
<ellipse cx="222.7" cy="195.6" rx="8.6" ry="5.7" fill="#3fe0d2"/>
<text x="222.7" y="196.68" font-size="5.4" fill="#0f3a3a" text-anchor="middle">1</text>
<ellipse cx="222.7" cy="210.2" rx="8.6" ry="5.7" fill="#3fe0d2"/>
<text x="222.7" y="211.28" font-size="5.4" fill="#0f3a3a" text-anchor="middle">2</text>
<ellipse cx="222.7" cy="253.1" rx="8.6" ry="5.9" fill="#3fe0d2"/>
<text x="222.7" y="254.18" font-size="5.4" fill="#0f3a3a" text-anchor="middle">10</text>
<rect x="116.95" y="221.05" width="1.1" height="1.1" fill="#2a2aff"/>
<rect x="116.95" y="223.05" width="1.1" height="1.1" fill="#2a2aff"/>
<rect x="116.95" y="225.05" width="1.1" height="1.1" fill="#2a2aff"/>
<rect x="116.95" y="227.05" width="1.1" height="1.1" fill="#2a2aff"/>
<rect x="116.95" y="229.05" width="1.1" height="1.1" fill="#2a2aff"/>
<rect x="173.85" y="224.45" width="1.1" height="1.1" fill="#3ab0ea"/>
<rect x="173.85" y="226.05" width="1.1" height="1.1" fill="#3ab0ea"/>
<rect x="173.85" y="227.65" width="1.1" height="1.1" fill="#3ab0ea"/>
<rect x="173.85" y="229.25" width="1.1" height="1.1" fill="#3ab0ea"/>
<rect x="173.85" y="230.85" width="1.1" height="1.1" fill="#3ab0ea"/>
<rect x="223.85" y="224.85" width="1.1" height="1.1" fill="#4fe0d6"/>
<rect x="223.85" y="227" width="1.1" height="1.1" fill="#4fe0d6"/>
<rect x="223.85" y="229.15" width="1.1" height="1.1" fill="#4fe0d6"/>
<rect x="223.85" y="231.3" width="1.1" height="1.1" fill="#4fe0d6"/>
<rect x="223.85" y="233.45" width="1.1" height="1.1" fill="#4fe0d6"/>
<rect x="90" y="165.5" width="9.6" height="9.4" fill="#12a84a"/>
<text x="94.8" y="172.3" font-size="5.8" fill="#fff" text-anchor="middle">1</text>
<polygon points="99.6,167.6 106.4,170.4 99.6,173.2" fill="#000"/>
<rect x="148.2" y="177" width="9.6" height="9.4" fill="#12a84a"/>
<text x="153" y="183.8" font-size="5.8" fill="#fff" text-anchor="middle">1</text>
<polygon points="157.8,179.1 165.2,181.9 157.8,184.7" fill="#000"/>
</g>
<g>
<rect x="259.8" y="167.3" width="106.3" height="106.3" fill="#4230be"/>
<rect x="259.75" y="167.25" width="10.73" height="10.73" fill="#f5bd30"/>
<rect x="270.38" y="167.25" width="10.73" height="10.73" fill="#412ebb"/>
<rect x="334.16" y="167.25" width="10.73" height="10.73" fill="#443ad2"/>
<rect x="270.38" y="177.88" width="10.73" height="10.73" fill="#f9d72f"/>
<rect x="281.01" y="177.88" width="10.73" height="10.73" fill="#4230be"/>
<rect x="291.64" y="177.88" width="10.73" height="10.73" fill="#412ebb"/>
<rect x="259.75" y="188.51" width="10.73" height="10.73" fill="#4230be"/>
<rect x="270.38" y="188.51" width="10.73" height="10.73" fill="#4751ed"/>
<rect x="281.01" y="188.51" width="10.73" height="10.73" fill="#e9b838"/>
<rect x="291.64" y="188.51" width="10.73" height="10.73" fill="#4230be"/>
<rect x="270.38" y="199.14" width="10.73" height="10.73" fill="#4334c8"/>
<rect x="291.64" y="199.14" width="10.73" height="10.73" fill="#e6b53a"/>
<rect x="302.27" y="199.14" width="10.73" height="10.73" fill="#4230be"/>
<rect x="344.79" y="199.14" width="10.73" height="10.73" fill="#3f6efb"/>
<rect x="270.38" y="209.77" width="10.73" height="10.73" fill="#4437cd"/>
<rect x="281.01" y="209.77" width="10.73" height="10.73" fill="#443ad2"/>
<rect x="291.64" y="209.77" width="10.73" height="10.73" fill="#443ad2"/>
<rect x="302.27" y="209.77" width="10.73" height="10.73" fill="#5ccb6a"/>
<rect x="312.9" y="209.77" width="10.73" height="10.73" fill="#4231c2"/>
<rect x="323.53" y="209.77" width="10.73" height="10.73" fill="#4231c2"/>
<rect x="334.16" y="209.77" width="10.73" height="10.73" fill="#4334c8"/>
<rect x="344.79" y="209.77" width="10.73" height="10.73" fill="#4231c2"/>
<rect x="270.38" y="220.4" width="10.73" height="10.73" fill="#4437cd"/>
<rect x="281.01" y="220.4" width="10.73" height="10.73" fill="#412ebb"/>
<rect x="312.9" y="220.4" width="10.73" height="10.73" fill="#fcd032"/>
<rect x="270.38" y="231.03" width="10.73" height="10.73" fill="#4437cd"/>
<rect x="291.64" y="231.03" width="10.73" height="10.73" fill="#412ebb"/>
<rect x="323.53" y="231.03" width="10.73" height="10.73" fill="#f8da2d"/>
<rect x="270.38" y="241.66" width="10.73" height="10.73" fill="#474dea"/>
<rect x="291.64" y="241.66" width="10.73" height="10.73" fill="#4230be"/>
<rect x="302.27" y="241.66" width="10.73" height="10.73" fill="#4230be"/>
<rect x="334.16" y="241.66" width="10.73" height="10.73" fill="#dbb53e"/>
<rect x="270.38" y="252.29" width="10.73" height="10.73" fill="#4437cd"/>
<rect x="291.64" y="252.29" width="10.73" height="10.73" fill="#453dd6"/>
<rect x="323.53" y="252.29" width="10.73" height="10.73" fill="#443ad2"/>
<rect x="334.16" y="252.29" width="10.73" height="10.73" fill="#4230be"/>
<rect x="344.79" y="252.29" width="10.73" height="10.73" fill="#dab53c"/>
<rect x="270.38" y="262.92" width="10.73" height="10.73" fill="#4643e0"/>
<rect x="291.64" y="262.92" width="10.73" height="10.73" fill="#4230be"/>
<rect x="355.42" y="262.92" width="10.73" height="10.73" fill="#fbb637"/>
<rect x="259.8" y="167.3" width="106.3" height="106.3" fill="none" stroke="#222" stroke-width="0.6"/>
<text x="258.4" y="175.42" font-size="7.8" fill="#222" text-anchor="end">1</text>
<text x="265.12" y="281.8" font-size="7.8" fill="#222" text-anchor="middle">1</text>
<line x1="259.8" y1="172.62" x2="261.6" y2="172.62" stroke="#111" stroke-width="0.7"/>
<line x1="265.12" y1="273.6" x2="265.12" y2="271.8" stroke="#111" stroke-width="0.7"/>
<line x1="265.12" y1="167.3" x2="265.12" y2="169.1" stroke="#111" stroke-width="0.7"/>
<line x1="366.1" y1="172.62" x2="364.3" y2="172.62" stroke="#111" stroke-width="0.7"/>
<text x="258.4" y="186.05" font-size="7.8" fill="#222" text-anchor="end">2</text>
<text x="275.75" y="281.8" font-size="7.8" fill="#222" text-anchor="middle">2</text>
<line x1="259.8" y1="183.25" x2="261.6" y2="183.25" stroke="#111" stroke-width="0.7"/>
<line x1="275.75" y1="273.6" x2="275.75" y2="271.8" stroke="#111" stroke-width="0.7"/>
<line x1="275.75" y1="167.3" x2="275.75" y2="169.1" stroke="#111" stroke-width="0.7"/>
<line x1="366.1" y1="183.25" x2="364.3" y2="183.25" stroke="#111" stroke-width="0.7"/>
<text x="258.4" y="196.68" font-size="7.8" fill="#222" text-anchor="end">3</text>
<text x="286.38" y="281.8" font-size="7.8" fill="#222" text-anchor="middle">3</text>
<line x1="259.8" y1="193.88" x2="261.6" y2="193.88" stroke="#111" stroke-width="0.7"/>
<line x1="286.38" y1="273.6" x2="286.38" y2="271.8" stroke="#111" stroke-width="0.7"/>
<line x1="286.38" y1="167.3" x2="286.38" y2="169.1" stroke="#111" stroke-width="0.7"/>
<line x1="366.1" y1="193.88" x2="364.3" y2="193.88" stroke="#111" stroke-width="0.7"/>
<text x="258.4" y="207.31" font-size="7.8" fill="#222" text-anchor="end">4</text>
<text x="297" y="281.8" font-size="7.8" fill="#222" text-anchor="middle">4</text>
<line x1="259.8" y1="204.5" x2="261.6" y2="204.5" stroke="#111" stroke-width="0.7"/>
<line x1="297" y1="273.6" x2="297" y2="271.8" stroke="#111" stroke-width="0.7"/>
<line x1="297" y1="167.3" x2="297" y2="169.1" stroke="#111" stroke-width="0.7"/>
<line x1="366.1" y1="204.5" x2="364.3" y2="204.5" stroke="#111" stroke-width="0.7"/>
<text x="258.4" y="217.94" font-size="7.8" fill="#222" text-anchor="end">5</text>
<text x="307.63" y="281.8" font-size="7.8" fill="#222" text-anchor="middle">5</text>
<line x1="259.8" y1="215.13" x2="261.6" y2="215.13" stroke="#111" stroke-width="0.7"/>
<line x1="307.63" y1="273.6" x2="307.63" y2="271.8" stroke="#111" stroke-width="0.7"/>
<line x1="307.63" y1="167.3" x2="307.63" y2="169.1" stroke="#111" stroke-width="0.7"/>
<line x1="366.1" y1="215.13" x2="364.3" y2="215.13" stroke="#111" stroke-width="0.7"/>
<text x="258.4" y="228.57" font-size="7.8" fill="#222" text-anchor="end">6</text>
<text x="318.26" y="281.8" font-size="7.8" fill="#222" text-anchor="middle">6</text>
<line x1="259.8" y1="225.77" x2="261.6" y2="225.77" stroke="#111" stroke-width="0.7"/>
<line x1="318.26" y1="273.6" x2="318.26" y2="271.8" stroke="#111" stroke-width="0.7"/>
<line x1="318.26" y1="167.3" x2="318.26" y2="169.1" stroke="#111" stroke-width="0.7"/>
<line x1="366.1" y1="225.77" x2="364.3" y2="225.77" stroke="#111" stroke-width="0.7"/>
<text x="258.4" y="239.2" font-size="7.8" fill="#222" text-anchor="end">7</text>
<text x="328.89" y="281.8" font-size="7.8" fill="#222" text-anchor="middle">7</text>
<line x1="259.8" y1="236.4" x2="261.6" y2="236.4" stroke="#111" stroke-width="0.7"/>
<line x1="328.89" y1="273.6" x2="328.89" y2="271.8" stroke="#111" stroke-width="0.7"/>
<line x1="328.89" y1="167.3" x2="328.89" y2="169.1" stroke="#111" stroke-width="0.7"/>
<line x1="366.1" y1="236.4" x2="364.3" y2="236.4" stroke="#111" stroke-width="0.7"/>
<text x="258.4" y="249.83" font-size="7.8" fill="#222" text-anchor="end">8</text>
<text x="339.52" y="281.8" font-size="7.8" fill="#222" text-anchor="middle">8</text>
<line x1="259.8" y1="247.03" x2="261.6" y2="247.03" stroke="#111" stroke-width="0.7"/>
<line x1="339.52" y1="273.6" x2="339.52" y2="271.8" stroke="#111" stroke-width="0.7"/>
<line x1="339.52" y1="167.3" x2="339.52" y2="169.1" stroke="#111" stroke-width="0.7"/>
<line x1="366.1" y1="247.03" x2="364.3" y2="247.03" stroke="#111" stroke-width="0.7"/>
<text x="258.4" y="260.45" font-size="7.8" fill="#222" text-anchor="end">9</text>
<text x="350.15" y="281.8" font-size="7.8" fill="#222" text-anchor="middle">9</text>
<line x1="259.8" y1="257.65" x2="261.6" y2="257.65" stroke="#111" stroke-width="0.7"/>
<line x1="350.15" y1="273.6" x2="350.15" y2="271.8" stroke="#111" stroke-width="0.7"/>
<line x1="350.15" y1="167.3" x2="350.15" y2="169.1" stroke="#111" stroke-width="0.7"/>
<line x1="366.1" y1="257.65" x2="364.3" y2="257.65" stroke="#111" stroke-width="0.7"/>
<text x="258.4" y="271.08" font-size="7.8" fill="#222" text-anchor="end">0</text>
<text x="360.78" y="281.8" font-size="7.8" fill="#222" text-anchor="middle">0</text>
<line x1="259.8" y1="268.28" x2="261.6" y2="268.28" stroke="#111" stroke-width="0.7"/>
<line x1="360.78" y1="273.6" x2="360.78" y2="271.8" stroke="#111" stroke-width="0.7"/>
<line x1="360.78" y1="167.3" x2="360.78" y2="169.1" stroke="#111" stroke-width="0.7"/>
<line x1="366.1" y1="268.28" x2="364.3" y2="268.28" stroke="#111" stroke-width="0.7"/>
<text x="312.95" y="290.8" font-size="8" fill="#222" text-anchor="middle" textLength="24.4" lengthAdjust="spacingAndGlyphs">Output</text>
<text transform="translate(249.8,220.45) rotate(-90)" font-size="8" fill="#222" text-anchor="middle">Input</text>
<text x="231.3" y="166.2" font-size="12" fill="#1a1a1a" text-anchor="start" textLength="14.8" lengthAdjust="spacingAndGlyphs" stroke="#1a1a1a" stroke-width="0.18">(e)</text>
</g>
<g>
<rect x="409.6" y="168.6" width="107.4" height="106.8" fill="#4230be"/>
<rect x="409.55" y="168.55" width="10.84" height="10.78" fill="#f5ec25"/>
<rect x="420.29" y="168.55" width="10.84" height="10.78" fill="#412ebb"/>
<rect x="420.29" y="179.23" width="10.84" height="10.78" fill="#fabd3a"/>
<rect x="441.77" y="179.23" width="10.84" height="10.78" fill="#443ad2"/>
<rect x="452.51" y="179.23" width="10.84" height="10.78" fill="#4230be"/>
<rect x="484.73" y="179.23" width="10.84" height="10.78" fill="#4334c8"/>
<rect x="420.29" y="189.91" width="10.84" height="10.78" fill="#4658f2"/>
<rect x="431.03" y="189.91" width="10.84" height="10.78" fill="#2fc3a4"/>
<rect x="441.77" y="189.91" width="10.84" height="10.78" fill="#443ad2"/>
<rect x="452.51" y="189.91" width="10.84" height="10.78" fill="#4643e0"/>
<rect x="473.99" y="189.91" width="10.84" height="10.78" fill="#443ad2"/>
<rect x="484.73" y="189.91" width="10.84" height="10.78" fill="#443ad2"/>
<rect x="495.47" y="189.91" width="10.84" height="10.78" fill="#4231c2"/>
<rect x="409.55" y="200.59" width="10.84" height="10.78" fill="#4230be"/>
<rect x="431.03" y="200.59" width="10.84" height="10.78" fill="#4230be"/>
<rect x="441.77" y="200.59" width="10.84" height="10.78" fill="#f6e528"/>
<rect x="441.77" y="211.27" width="10.84" height="10.78" fill="#3a76fc"/>
<rect x="452.51" y="211.27" width="10.84" height="10.78" fill="#2bc1aa"/>
<rect x="463.25" y="211.27" width="10.84" height="10.78" fill="#4231c2"/>
<rect x="473.99" y="211.27" width="10.84" height="10.78" fill="#4231c2"/>
<rect x="484.73" y="211.27" width="10.84" height="10.78" fill="#4231c2"/>
<rect x="441.77" y="221.95" width="10.84" height="10.78" fill="#465bf4"/>
<rect x="452.51" y="221.95" width="10.84" height="10.78" fill="#4231c2"/>
<rect x="463.25" y="221.95" width="10.84" height="10.78" fill="#fcbe3b"/>
<rect x="409.55" y="232.63" width="10.84" height="10.78" fill="#4231c2"/>
<rect x="441.77" y="232.63" width="10.84" height="10.78" fill="#4754f0"/>
<rect x="452.51" y="232.63" width="10.84" height="10.78" fill="#4230be"/>
<rect x="473.99" y="232.63" width="10.84" height="10.78" fill="#febe3c"/>
<rect x="409.55" y="243.31" width="10.84" height="10.78" fill="#4437cd"/>
<rect x="431.03" y="243.31" width="10.84" height="10.78" fill="#4231c2"/>
<rect x="441.77" y="243.31" width="10.84" height="10.78" fill="#4466fb"/>
<rect x="452.51" y="243.31" width="10.84" height="10.78" fill="#453dd6"/>
<rect x="484.73" y="243.31" width="10.84" height="10.78" fill="#38c698"/>
<rect x="495.47" y="243.31" width="10.84" height="10.78" fill="#453dd6"/>
<rect x="409.55" y="253.99" width="10.84" height="10.78" fill="#4334c8"/>
<rect x="431.03" y="253.99" width="10.84" height="10.78" fill="#4231c2"/>
<rect x="441.77" y="253.99" width="10.84" height="10.78" fill="#11afd7"/>
<rect x="452.51" y="253.99" width="10.84" height="10.78" fill="#443ad2"/>
<rect x="473.99" y="253.99" width="10.84" height="10.78" fill="#453dd6"/>
<rect x="495.47" y="253.99" width="10.84" height="10.78" fill="#11afd7"/>
<rect x="420.29" y="264.67" width="10.84" height="10.78" fill="#4334c8"/>
<rect x="441.77" y="264.67" width="10.84" height="10.78" fill="#453dd6"/>
<rect x="452.51" y="264.67" width="10.84" height="10.78" fill="#387afc"/>
<rect x="463.25" y="264.67" width="10.84" height="10.78" fill="#4231c2"/>
<rect x="495.47" y="264.67" width="10.84" height="10.78" fill="#4231c2"/>
<rect x="506.21" y="264.67" width="10.84" height="10.78" fill="#2fc3a4"/>
<rect x="409.6" y="168.6" width="107.4" height="106.8" fill="none" stroke="#222" stroke-width="0.6"/>
<text x="408.2" y="176.74" font-size="7.8" fill="#222" text-anchor="end">1</text>
<text x="414.97" y="283.6" font-size="7.8" fill="#222" text-anchor="middle">1</text>
<line x1="409.6" y1="173.94" x2="411.4" y2="173.94" stroke="#111" stroke-width="0.7"/>
<line x1="414.97" y1="275.4" x2="414.97" y2="273.6" stroke="#111" stroke-width="0.7"/>
<line x1="414.97" y1="168.6" x2="414.97" y2="170.4" stroke="#111" stroke-width="0.7"/>
<line x1="517" y1="173.94" x2="515.2" y2="173.94" stroke="#111" stroke-width="0.7"/>
<text x="408.2" y="187.42" font-size="7.8" fill="#222" text-anchor="end">2</text>
<text x="425.71" y="283.6" font-size="7.8" fill="#222" text-anchor="middle">2</text>
<line x1="409.6" y1="184.62" x2="411.4" y2="184.62" stroke="#111" stroke-width="0.7"/>
<line x1="425.71" y1="275.4" x2="425.71" y2="273.6" stroke="#111" stroke-width="0.7"/>
<line x1="425.71" y1="168.6" x2="425.71" y2="170.4" stroke="#111" stroke-width="0.7"/>
<line x1="517" y1="184.62" x2="515.2" y2="184.62" stroke="#111" stroke-width="0.7"/>
<text x="408.2" y="198.1" font-size="7.8" fill="#222" text-anchor="end">3</text>
<text x="436.45" y="283.6" font-size="7.8" fill="#222" text-anchor="middle">3</text>
<line x1="409.6" y1="195.3" x2="411.4" y2="195.3" stroke="#111" stroke-width="0.7"/>
<line x1="436.45" y1="275.4" x2="436.45" y2="273.6" stroke="#111" stroke-width="0.7"/>
<line x1="436.45" y1="168.6" x2="436.45" y2="170.4" stroke="#111" stroke-width="0.7"/>
<line x1="517" y1="195.3" x2="515.2" y2="195.3" stroke="#111" stroke-width="0.7"/>
<text x="408.2" y="208.78" font-size="7.8" fill="#222" text-anchor="end">4</text>
<text x="447.19" y="283.6" font-size="7.8" fill="#222" text-anchor="middle">4</text>
<line x1="409.6" y1="205.98" x2="411.4" y2="205.98" stroke="#111" stroke-width="0.7"/>
<line x1="447.19" y1="275.4" x2="447.19" y2="273.6" stroke="#111" stroke-width="0.7"/>
<line x1="447.19" y1="168.6" x2="447.19" y2="170.4" stroke="#111" stroke-width="0.7"/>
<line x1="517" y1="205.98" x2="515.2" y2="205.98" stroke="#111" stroke-width="0.7"/>
<text x="408.2" y="219.46" font-size="7.8" fill="#222" text-anchor="end">5</text>
<text x="457.93" y="283.6" font-size="7.8" fill="#222" text-anchor="middle">5</text>
<line x1="409.6" y1="216.66" x2="411.4" y2="216.66" stroke="#111" stroke-width="0.7"/>
<line x1="457.93" y1="275.4" x2="457.93" y2="273.6" stroke="#111" stroke-width="0.7"/>
<line x1="457.93" y1="168.6" x2="457.93" y2="170.4" stroke="#111" stroke-width="0.7"/>
<line x1="517" y1="216.66" x2="515.2" y2="216.66" stroke="#111" stroke-width="0.7"/>
<text x="408.2" y="230.14" font-size="7.8" fill="#222" text-anchor="end">6</text>
<text x="468.67" y="283.6" font-size="7.8" fill="#222" text-anchor="middle">6</text>
<line x1="409.6" y1="227.34" x2="411.4" y2="227.34" stroke="#111" stroke-width="0.7"/>
<line x1="468.67" y1="275.4" x2="468.67" y2="273.6" stroke="#111" stroke-width="0.7"/>
<line x1="468.67" y1="168.6" x2="468.67" y2="170.4" stroke="#111" stroke-width="0.7"/>
<line x1="517" y1="227.34" x2="515.2" y2="227.34" stroke="#111" stroke-width="0.7"/>
<text x="408.2" y="240.82" font-size="7.8" fill="#222" text-anchor="end">7</text>
<text x="479.41" y="283.6" font-size="7.8" fill="#222" text-anchor="middle">7</text>
<line x1="409.6" y1="238.02" x2="411.4" y2="238.02" stroke="#111" stroke-width="0.7"/>
<line x1="479.41" y1="275.4" x2="479.41" y2="273.6" stroke="#111" stroke-width="0.7"/>
<line x1="479.41" y1="168.6" x2="479.41" y2="170.4" stroke="#111" stroke-width="0.7"/>
<line x1="517" y1="238.02" x2="515.2" y2="238.02" stroke="#111" stroke-width="0.7"/>
<text x="408.2" y="251.5" font-size="7.8" fill="#222" text-anchor="end">8</text>
<text x="490.15" y="283.6" font-size="7.8" fill="#222" text-anchor="middle">8</text>
<line x1="409.6" y1="248.7" x2="411.4" y2="248.7" stroke="#111" stroke-width="0.7"/>
<line x1="490.15" y1="275.4" x2="490.15" y2="273.6" stroke="#111" stroke-width="0.7"/>
<line x1="490.15" y1="168.6" x2="490.15" y2="170.4" stroke="#111" stroke-width="0.7"/>
<line x1="517" y1="248.7" x2="515.2" y2="248.7" stroke="#111" stroke-width="0.7"/>
<text x="408.2" y="262.18" font-size="7.8" fill="#222" text-anchor="end">9</text>
<text x="500.89" y="283.6" font-size="7.8" fill="#222" text-anchor="middle">9</text>
<line x1="409.6" y1="259.38" x2="411.4" y2="259.38" stroke="#111" stroke-width="0.7"/>
<line x1="500.89" y1="275.4" x2="500.89" y2="273.6" stroke="#111" stroke-width="0.7"/>
<line x1="500.89" y1="168.6" x2="500.89" y2="170.4" stroke="#111" stroke-width="0.7"/>
<line x1="517" y1="259.38" x2="515.2" y2="259.38" stroke="#111" stroke-width="0.7"/>
<text x="408.2" y="272.86" font-size="7.8" fill="#222" text-anchor="end">0</text>
<text x="511.63" y="283.6" font-size="7.8" fill="#222" text-anchor="middle">0</text>
<line x1="409.6" y1="270.06" x2="411.4" y2="270.06" stroke="#111" stroke-width="0.7"/>
<line x1="511.63" y1="275.4" x2="511.63" y2="273.6" stroke="#111" stroke-width="0.7"/>
<line x1="511.63" y1="168.6" x2="511.63" y2="170.4" stroke="#111" stroke-width="0.7"/>
<line x1="517" y1="270.06" x2="515.2" y2="270.06" stroke="#111" stroke-width="0.7"/>
<text x="463.3" y="292.6" font-size="8" fill="#222" text-anchor="middle" textLength="24.4" lengthAdjust="spacingAndGlyphs">Output</text>
<text transform="translate(398.4,222) rotate(-90)" font-size="8" fill="#222" text-anchor="middle">Input</text>
<text x="387.8" y="164.3" font-size="12" fill="#1a1a1a" text-anchor="start" textLength="12.6" lengthAdjust="spacingAndGlyphs" stroke="#1a1a1a" stroke-width="0.18">(f)</text>
</g>
<rect x="521.4" y="273.83" width="8.5" height="1.82" fill="#3f28ad"/>
<rect x="521.4" y="272.16" width="8.5" height="1.82" fill="#402db7"/>
<rect x="521.4" y="270.49" width="8.5" height="1.82" fill="#4231c1"/>
<rect x="521.4" y="268.82" width="8.5" height="1.82" fill="#4335ca"/>
<rect x="521.4" y="267.15" width="8.5" height="1.82" fill="#443ad2"/>
<rect x="521.4" y="265.48" width="8.5" height="1.82" fill="#453fd9"/>
<rect x="521.4" y="263.81" width="8.5" height="1.82" fill="#4644e0"/>
<rect x="521.4" y="262.14" width="8.5" height="1.82" fill="#4649e6"/>
<rect x="521.4" y="260.47" width="8.5" height="1.82" fill="#474eea"/>
<rect x="521.4" y="258.8" width="8.5" height="1.82" fill="#4753f0"/>
<rect x="521.4" y="257.13" width="8.5" height="1.82" fill="#4659f3"/>
<rect x="521.4" y="255.46" width="8.5" height="1.82" fill="#455ff7"/>
<rect x="521.4" y="253.79" width="8.5" height="1.82" fill="#4464fa"/>
<rect x="521.4" y="252.12" width="8.5" height="1.82" fill="#416afb"/>
<rect x="521.4" y="250.45" width="8.5" height="1.82" fill="#3e71fc"/>
<rect x="521.4" y="248.78" width="8.5" height="1.82" fill="#3a77fc"/>
<rect x="521.4" y="247.1" width="8.5" height="1.82" fill="#367dfb"/>
<rect x="521.4" y="245.43" width="8.5" height="1.82" fill="#3382f8"/>
<rect x="521.4" y="243.76" width="8.5" height="1.82" fill="#2f88f5"/>
<rect x="521.4" y="242.09" width="8.5" height="1.82" fill="#2c8ef2"/>
<rect x="521.4" y="240.42" width="8.5" height="1.82" fill="#2a92ee"/>
<rect x="521.4" y="238.75" width="8.5" height="1.82" fill="#2898ea"/>
<rect x="521.4" y="237.08" width="8.5" height="1.82" fill="#269ce7"/>
<rect x="521.4" y="235.41" width="8.5" height="1.82" fill="#22a1e4"/>
<rect x="521.4" y="233.74" width="8.5" height="1.82" fill="#1fa5e1"/>
<rect x="521.4" y="232.07" width="8.5" height="1.82" fill="#1baade"/>
<rect x="521.4" y="230.4" width="8.5" height="1.82" fill="#14add9"/>
<rect x="521.4" y="228.73" width="8.5" height="1.82" fill="#0cb1d4"/>
<rect x="521.4" y="227.06" width="8.5" height="1.82" fill="#04b5cf"/>
<rect x="521.4" y="225.39" width="8.5" height="1.82" fill="#09b8c8"/>
<rect x="521.4" y="223.72" width="8.5" height="1.82" fill="#13bac1"/>
<rect x="521.4" y="222.05" width="8.5" height="1.82" fill="#1dbdba"/>
<rect x="521.4" y="220.38" width="8.5" height="1.82" fill="#25bfb1"/>
<rect x="521.4" y="218.71" width="8.5" height="1.82" fill="#2cc2a8"/>
<rect x="521.4" y="217.04" width="8.5" height="1.82" fill="#33c49f"/>
<rect x="521.4" y="215.37" width="8.5" height="1.82" fill="#3cc795"/>
<rect x="521.4" y="213.7" width="8.5" height="1.82" fill="#47c889"/>
<rect x="521.4" y="212.03" width="8.5" height="1.82" fill="#53ca7e"/>
<rect x="521.4" y="210.36" width="8.5" height="1.82" fill="#60cc73"/>
<rect x="521.4" y="208.69" width="8.5" height="1.82" fill="#71cc66"/>
<rect x="521.4" y="207.02" width="8.5" height="1.82" fill="#81cc58"/>
<rect x="521.4" y="205.35" width="8.5" height="1.82" fill="#92cc4b"/>
<rect x="521.4" y="203.68" width="8.5" height="1.82" fill="#a2c941"/>
<rect x="521.4" y="202.01" width="8.5" height="1.82" fill="#b0c536"/>
<rect x="521.4" y="200.34" width="8.5" height="1.82" fill="#c0c22c"/>
<rect x="521.4" y="198.67" width="8.5" height="1.82" fill="#ccbf2b"/>
<rect x="521.4" y="197" width="8.5" height="1.82" fill="#d8bd2d"/>
<rect x="521.4" y="195.32" width="8.5" height="1.82" fill="#e4bb2f"/>
<rect x="521.4" y="193.65" width="8.5" height="1.82" fill="#edbb32"/>
<rect x="521.4" y="191.98" width="8.5" height="1.82" fill="#f3bc36"/>
<rect x="521.4" y="190.31" width="8.5" height="1.82" fill="#fabd39"/>
<rect x="521.4" y="188.64" width="8.5" height="1.82" fill="#febf3b"/>
<rect x="521.4" y="186.97" width="8.5" height="1.82" fill="#fec439"/>
<rect x="521.4" y="185.3" width="8.5" height="1.82" fill="#fdc836"/>
<rect x="521.4" y="183.63" width="8.5" height="1.82" fill="#fdcd34"/>
<rect x="521.4" y="181.96" width="8.5" height="1.82" fill="#fbd231"/>
<rect x="521.4" y="180.29" width="8.5" height="1.82" fill="#f9d82e"/>
<rect x="521.4" y="178.62" width="8.5" height="1.82" fill="#f7dd2b"/>
<rect x="521.4" y="176.95" width="8.5" height="1.82" fill="#f6e329"/>
<rect x="521.4" y="175.28" width="8.5" height="1.82" fill="#f6e826"/>
<rect x="521.4" y="173.61" width="8.5" height="1.82" fill="#f5ed24"/>
<rect x="521.4" y="171.94" width="8.5" height="1.82" fill="#f6f220"/>
<rect x="521.4" y="170.27" width="8.5" height="1.82" fill="#f7f51c"/>
<rect x="521.4" y="168.6" width="8.5" height="1.82" fill="#f8f917"/>
<rect x="521.4" y="168.6" width="8.5" height="106.9" fill="none" stroke="#555" stroke-width="0.4"/>
<text x="532.2" y="277.6" font-size="6" fill="#666" text-anchor="start">0</text>
<line x1="529.9" y1="275.5" x2="528.6" y2="275.5" stroke="#555" stroke-width="0.4"/>
<text x="532.2" y="256.22" font-size="6" fill="#666" text-anchor="start">0.2</text>
<line x1="529.9" y1="254.12" x2="528.6" y2="254.12" stroke="#555" stroke-width="0.4"/>
<text x="532.2" y="234.84" font-size="6" fill="#666" text-anchor="start">0.4</text>
<line x1="529.9" y1="232.74" x2="528.6" y2="232.74" stroke="#555" stroke-width="0.4"/>
<text x="532.2" y="213.46" font-size="6" fill="#666" text-anchor="start">0.6</text>
<line x1="529.9" y1="211.36" x2="528.6" y2="211.36" stroke="#555" stroke-width="0.4"/>
<text x="532.2" y="192.08" font-size="6" fill="#666" text-anchor="start">0.8</text>
<line x1="529.9" y1="189.98" x2="528.6" y2="189.98" stroke="#555" stroke-width="0.4"/>
<text x="532.2" y="170.7" font-size="6" fill="#666" text-anchor="start">1</text>
<line x1="529.9" y1="168.6" x2="528.6" y2="168.6" stroke="#555" stroke-width="0.4"/>
</svg>
</body></html>
